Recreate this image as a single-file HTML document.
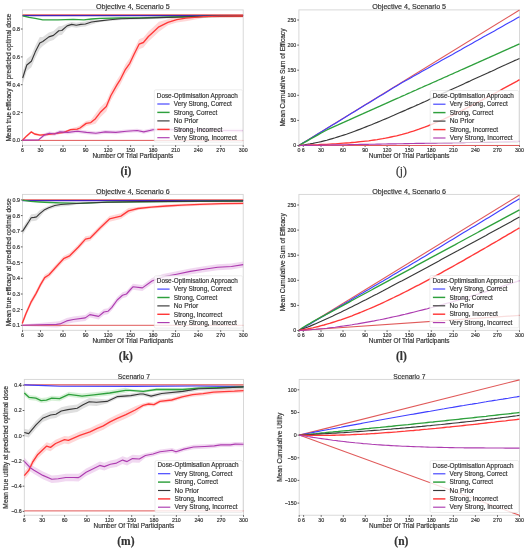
<!DOCTYPE html><html><head><meta charset="utf-8"><style>html,body{margin:0;padding:0;background:#fff;width:526px;height:550px;overflow:hidden}svg{display:block;will-change:transform}</style></head><body>
<svg width="526" height="550" viewBox="0 0 526 550">
<defs><filter id="soft" x="0" y="0" width="526" height="550" filterUnits="userSpaceOnUse"><feGaussianBlur stdDeviation="0.35"/></filter></defs>
<rect width="526" height="550" fill="#fff"/>
<g filter="url(#soft)">
<rect x="22.5" y="9.9" width="220.7" height="135.4" fill="none" stroke="#d4d4d4" stroke-width="0.9"/>
<line x1="20.9" y1="140.4" x2="22.5" y2="140.4" stroke="#333" stroke-width="0.8"/>
<text x="19.9" y="142.3" font-size="5.3" text-anchor="end" fill="#333333" stroke="#333333" stroke-width="0.18" font-family='"Liberation Sans", sans-serif' font-weight="normal">0.0</text>
<line x1="20.9" y1="112.6" x2="22.5" y2="112.6" stroke="#333" stroke-width="0.8"/>
<text x="19.9" y="114.5" font-size="5.3" text-anchor="end" fill="#333333" stroke="#333333" stroke-width="0.18" font-family='"Liberation Sans", sans-serif' font-weight="normal">0.2</text>
<line x1="20.9" y1="84.7" x2="22.5" y2="84.7" stroke="#333" stroke-width="0.8"/>
<text x="19.9" y="86.6" font-size="5.3" text-anchor="end" fill="#333333" stroke="#333333" stroke-width="0.18" font-family='"Liberation Sans", sans-serif' font-weight="normal">0.4</text>
<line x1="20.9" y1="56.9" x2="22.5" y2="56.9" stroke="#333" stroke-width="0.8"/>
<text x="19.9" y="58.8" font-size="5.3" text-anchor="end" fill="#333333" stroke="#333333" stroke-width="0.18" font-family='"Liberation Sans", sans-serif' font-weight="normal">0.6</text>
<line x1="20.9" y1="29.0" x2="22.5" y2="29.0" stroke="#333" stroke-width="0.8"/>
<text x="19.9" y="30.9" font-size="5.3" text-anchor="end" fill="#333333" stroke="#333333" stroke-width="0.18" font-family='"Liberation Sans", sans-serif' font-weight="normal">0.8</text>
<line x1="22.5" y1="145.3" x2="22.5" y2="146.9" stroke="#333" stroke-width="0.8"/>
<text x="22.5" y="151.8" font-size="5.3" text-anchor="middle" fill="#333333" stroke="#333333" stroke-width="0.18" font-family='"Liberation Sans", sans-serif' font-weight="normal">6</text>
<line x1="40.5" y1="145.3" x2="40.5" y2="146.9" stroke="#333" stroke-width="0.8"/>
<text x="40.5" y="151.8" font-size="5.3" text-anchor="middle" fill="#333333" stroke="#333333" stroke-width="0.18" font-family='"Liberation Sans", sans-serif' font-weight="normal">30</text>
<line x1="63.0" y1="145.3" x2="63.0" y2="146.9" stroke="#333" stroke-width="0.8"/>
<text x="63.0" y="151.8" font-size="5.3" text-anchor="middle" fill="#333333" stroke="#333333" stroke-width="0.18" font-family='"Liberation Sans", sans-serif' font-weight="normal">60</text>
<line x1="85.6" y1="145.3" x2="85.6" y2="146.9" stroke="#333" stroke-width="0.8"/>
<text x="85.6" y="151.8" font-size="5.3" text-anchor="middle" fill="#333333" stroke="#333333" stroke-width="0.18" font-family='"Liberation Sans", sans-serif' font-weight="normal">90</text>
<line x1="108.1" y1="145.3" x2="108.1" y2="146.9" stroke="#333" stroke-width="0.8"/>
<text x="108.1" y="151.8" font-size="5.3" text-anchor="middle" fill="#333333" stroke="#333333" stroke-width="0.18" font-family='"Liberation Sans", sans-serif' font-weight="normal">120</text>
<line x1="130.6" y1="145.3" x2="130.6" y2="146.9" stroke="#333" stroke-width="0.8"/>
<text x="130.6" y="151.8" font-size="5.3" text-anchor="middle" fill="#333333" stroke="#333333" stroke-width="0.18" font-family='"Liberation Sans", sans-serif' font-weight="normal">150</text>
<line x1="153.1" y1="145.3" x2="153.1" y2="146.9" stroke="#333" stroke-width="0.8"/>
<text x="153.1" y="151.8" font-size="5.3" text-anchor="middle" fill="#333333" stroke="#333333" stroke-width="0.18" font-family='"Liberation Sans", sans-serif' font-weight="normal">180</text>
<line x1="175.6" y1="145.3" x2="175.6" y2="146.9" stroke="#333" stroke-width="0.8"/>
<text x="175.6" y="151.8" font-size="5.3" text-anchor="middle" fill="#333333" stroke="#333333" stroke-width="0.18" font-family='"Liberation Sans", sans-serif' font-weight="normal">210</text>
<line x1="198.2" y1="145.3" x2="198.2" y2="146.9" stroke="#333" stroke-width="0.8"/>
<text x="198.2" y="151.8" font-size="5.3" text-anchor="middle" fill="#333333" stroke="#333333" stroke-width="0.18" font-family='"Liberation Sans", sans-serif' font-weight="normal">240</text>
<line x1="220.7" y1="145.3" x2="220.7" y2="146.9" stroke="#333" stroke-width="0.8"/>
<text x="220.7" y="151.8" font-size="5.3" text-anchor="middle" fill="#333333" stroke="#333333" stroke-width="0.18" font-family='"Liberation Sans", sans-serif' font-weight="normal">270</text>
<line x1="243.2" y1="145.3" x2="243.2" y2="146.9" stroke="#333" stroke-width="0.8"/>
<text x="243.2" y="151.8" font-size="5.3" text-anchor="middle" fill="#333333" stroke="#333333" stroke-width="0.18" font-family='"Liberation Sans", sans-serif' font-weight="normal">300</text>
<text x="132.8" y="8.8" font-size="7.1" text-anchor="middle" fill="#333333" stroke="#333333" stroke-width="0.18" font-family='"Liberation Sans", sans-serif' font-weight="normal" textLength="73.8" lengthAdjust="spacingAndGlyphs">Objective 4, Scenario 5</text>
<text x="132.8" y="157.6" font-size="6.3" text-anchor="middle" fill="#333333" stroke="#333333" stroke-width="0.18" font-family='"Liberation Sans", sans-serif' font-weight="normal" textLength="80.8" lengthAdjust="spacingAndGlyphs">Number Of Trial Participants</text>
<text x="0" y="0" font-size="6.3" text-anchor="middle" fill="#333333" stroke="#333333" stroke-width="0.18" font-family='"Liberation Sans", sans-serif' textLength="128" lengthAdjust="spacingAndGlyphs" transform="translate(10.6,77.60000000000001) rotate(-90)">Mean true efficacy at predicted optimal dose</text>
<text x="125.9" y="174.8" font-size="11.5" text-anchor="middle" fill="#333333" stroke="#333333" stroke-width="0.18" font-family='"Liberation Serif", serif' font-weight="bold">(i)</text>
<polygon points="22.7,72.0 26.8,59.0 31.4,55.2 35.2,46.1 39.8,37.0 42.8,37.0 48.9,32.4 53.5,30.9 58.8,26.3 61.8,26.0 67.1,23.4 71.7,21.9 76.3,22.7 80.8,21.9 85.4,21.5 91.5,19.5 100.0,19.7 110.0,18.6 121.0,17.6 140.0,17.1 160.0,16.4 180.0,15.8 210.0,15.2 243.0,14.9 243.0,17.3 210.0,17.6 180.0,18.2 160.0,18.8 140.0,19.5 121.0,20.0 110.0,21.0 100.0,22.1 91.5,24.5 85.4,26.5 80.8,26.9 76.3,27.7 71.7,26.9 67.1,28.4 61.8,35.0 58.8,35.3 53.5,39.9 48.9,41.4 42.8,46.0 39.8,49.0 35.2,58.1 31.4,67.2 26.8,71.0 22.7,84.0" fill="#b8b8b8" opacity="0.45" stroke="none"/>
<polygon points="22.5,139.0 26.7,134.7 31.2,130.7 34.6,132.8 40.0,133.9 46.6,133.3 54.6,132.5 63.9,131.2 70.6,128.5 77.2,126.7 80.0,125.5 86.2,120.9 90.8,120.1 95.5,113.7 100.1,107.6 106.3,101.4 110.9,90.5 117.1,79.7 120.0,75.2 125.5,64.3 129.8,58.3 134.2,49.0 139.1,39.2 143.4,37.5 148.4,31.5 152.0,28.2 158.9,21.8 167.9,19.3 176.8,16.6 185.7,15.2 203.6,15.1 220.0,14.7 243.0,14.5 243.0,17.5 220.0,17.7 203.6,18.1 185.7,21.2 176.8,22.6 167.9,25.3 158.9,31.8 152.0,38.2 148.4,41.5 143.4,47.5 139.1,49.2 134.2,59.0 129.8,68.3 125.5,74.3 120.0,85.2 117.1,89.7 110.9,100.5 106.3,111.4 100.1,117.6 95.5,123.7 90.8,125.1 86.2,125.9 80.0,130.5 77.2,131.7 70.6,130.9 63.9,133.6 54.6,134.9 46.6,135.7 40.0,136.3 34.6,135.2 31.2,133.1 26.7,137.1 22.5,141.4" fill="#ff9a9a" opacity="0.4" stroke="none"/>
<polygon points="22.5,139.3 38.6,139.1 44.0,133.5 49.3,131.4 54.6,132.2 59.9,130.1 67.9,130.6 77.2,129.5 86.5,130.6 95.9,131.4 105.2,130.1 115.8,130.6 126.5,129.5 137.1,128.7 143.8,130.1 153.1,127.9 165.0,127.7 180.0,128.2 200.0,127.7 220.0,128.7 243.0,128.8 243.0,132.4 220.0,132.3 200.0,131.3 180.0,131.8 165.0,131.3 153.1,131.5 143.8,133.7 137.1,132.3 126.5,133.1 115.8,134.2 105.2,133.7 95.9,135.0 86.5,134.2 77.2,133.1 67.9,134.2 59.9,133.7 54.6,135.8 49.3,135.0 44.0,137.1 38.6,140.7 22.5,140.9" fill="#d890d8" opacity="0.35" stroke="none"/>
<polyline points="22.5,140.4 243.2,140.4" fill="none" stroke="#e05a5a" stroke-width="1.0" stroke-linejoin="round" stroke-linecap="butt" opacity="1.0"/>
<polyline points="22.5,14.9 243.2,14.9" fill="none" stroke="#e05a5a" stroke-width="1.2" stroke-linejoin="round" stroke-linecap="butt" opacity="1.0"/>
<polyline points="22.5,15.7 243.2,15.7" fill="none" stroke="#4422b8" stroke-width="1.2" stroke-linejoin="round" stroke-linecap="butt" opacity="1.0"/>
<polyline points="22.7,15.9 29.1,17.4 35.2,18.3 42.8,19.9 58.0,19.9 73.2,19.4 83.9,19.9 91.5,19.0 100.0,18.3 120.0,18.0 140.0,17.8 170.0,17.0 200.0,16.5 243.0,16.1" fill="none" stroke="#2ea03c" stroke-width="1.35" stroke-linejoin="round" stroke-linecap="butt" opacity="1.0"/>
<polyline points="22.7,78.0 26.8,65.0 31.4,61.2 35.2,52.1 39.8,43.0 42.8,41.5 48.9,36.9 53.5,35.4 58.8,30.8 61.8,30.5 67.1,25.9 71.7,24.4 76.3,25.2 80.8,24.4 85.4,24.0 91.5,22.0 100.0,20.9 110.0,19.8 121.0,18.8 140.0,18.3 160.0,17.6 180.0,17.0 210.0,16.4 243.0,16.1" fill="none" stroke="#383838" stroke-width="1.15" stroke-linejoin="round" stroke-linecap="butt" opacity="1.0"/>
<polyline points="22.5,140.2 26.7,135.9 31.2,131.9 34.6,134.0 40.0,135.1 46.6,134.5 54.6,133.7 63.9,132.4 70.6,129.7 77.2,129.2 80.0,128.0 86.2,123.4 90.8,122.6 95.5,118.7 100.1,112.6 106.3,106.4 110.9,95.5 117.1,84.7 120.0,80.2 125.5,69.3 129.8,63.3 134.2,54.0 139.1,44.2 143.4,42.5 148.4,36.5 152.0,33.2 158.9,26.8 167.9,22.3 176.8,19.6 185.7,18.2 203.6,16.6 220.0,16.2 243.0,16.0" fill="none" stroke="#ff3838" stroke-width="1.35" stroke-linejoin="round" stroke-linecap="butt" opacity="1.0"/>
<polyline points="22.5,140.1 38.6,139.9 44.0,135.3 49.3,133.2 54.6,134.0 59.9,131.9 67.9,132.4 77.2,131.3 86.5,132.4 95.9,133.2 105.2,131.9 115.8,132.4 126.5,131.3 137.1,130.5 143.8,131.9 153.1,129.7 165.0,129.5 180.0,130.0 200.0,129.5 220.0,130.5 243.0,130.6" fill="none" stroke="#ad3cb0" stroke-width="1.15" stroke-linejoin="round" stroke-linecap="butt" opacity="1.0"/>
<rect x="154.3" y="89.8" width="88.3" height="52.3" rx="1.5" fill="#ffffff" fill-opacity="0.8" stroke="#e0e0e0" stroke-width="0.6"/>
<text x="156.8" y="97.6" font-size="6.7" text-anchor="start" fill="#333333" stroke="#333333" stroke-width="0.18" font-family='"Liberation Sans", sans-serif' font-weight="normal" textLength="81" lengthAdjust="spacingAndGlyphs">Dose-Optimisation Approach</text>
<line x1="157.3" y1="104.0" x2="169.60000000000002" y2="104.0" stroke="#4040ff" stroke-width="1.15"/>
<text x="173.8" y="106.2" font-size="6.7" text-anchor="start" fill="#333333" stroke="#333333" stroke-width="0.18" font-family='"Liberation Sans", sans-serif' font-weight="normal" textLength="58" lengthAdjust="spacingAndGlyphs">Very Strong, Correct</text>
<line x1="157.3" y1="112.4" x2="169.60000000000002" y2="112.4" stroke="#2ea03c" stroke-width="1.45"/>
<text x="173.8" y="114.6" font-size="6.7" text-anchor="start" fill="#333333" stroke="#333333" stroke-width="0.18" font-family='"Liberation Sans", sans-serif' font-weight="normal" textLength="43.5" lengthAdjust="spacingAndGlyphs">Strong, Correct</text>
<line x1="157.3" y1="120.9" x2="169.60000000000002" y2="120.9" stroke="#383838" stroke-width="1.15"/>
<text x="173.8" y="123.1" font-size="6.7" text-anchor="start" fill="#333333" stroke="#333333" stroke-width="0.18" font-family='"Liberation Sans", sans-serif' font-weight="normal" textLength="24.5" lengthAdjust="spacingAndGlyphs">No Prior</text>
<line x1="157.3" y1="129.4" x2="169.60000000000002" y2="129.4" stroke="#ff3838" stroke-width="1.45"/>
<text x="173.8" y="131.6" font-size="6.7" text-anchor="start" fill="#333333" stroke="#333333" stroke-width="0.18" font-family='"Liberation Sans", sans-serif' font-weight="normal" textLength="48.5" lengthAdjust="spacingAndGlyphs">Strong, Incorrect</text>
<line x1="157.3" y1="137.7" x2="169.60000000000002" y2="137.7" stroke="#ad3cb0" stroke-width="1.15"/>
<text x="173.8" y="139.9" font-size="6.7" text-anchor="start" fill="#333333" stroke="#333333" stroke-width="0.18" font-family='"Liberation Sans", sans-serif' font-weight="normal" textLength="63" lengthAdjust="spacingAndGlyphs">Very Strong, Incorrect</text>
<rect x="298.9" y="9.9" width="220.6" height="135.4" fill="none" stroke="#d4d4d4" stroke-width="0.9"/>
<line x1="297.29999999999995" y1="145.5" x2="298.9" y2="145.5" stroke="#333" stroke-width="0.8"/>
<text x="296.3" y="147.4" font-size="5.3" text-anchor="end" fill="#333333" stroke="#333333" stroke-width="0.18" font-family='"Liberation Sans", sans-serif' font-weight="normal">0</text>
<line x1="297.29999999999995" y1="120.4" x2="298.9" y2="120.4" stroke="#333" stroke-width="0.8"/>
<text x="296.3" y="122.3" font-size="5.3" text-anchor="end" fill="#333333" stroke="#333333" stroke-width="0.18" font-family='"Liberation Sans", sans-serif' font-weight="normal">50</text>
<line x1="297.29999999999995" y1="95.3" x2="298.9" y2="95.3" stroke="#333" stroke-width="0.8"/>
<text x="296.3" y="97.2" font-size="5.3" text-anchor="end" fill="#333333" stroke="#333333" stroke-width="0.18" font-family='"Liberation Sans", sans-serif' font-weight="normal">100</text>
<line x1="297.29999999999995" y1="70.2" x2="298.9" y2="70.2" stroke="#333" stroke-width="0.8"/>
<text x="296.3" y="72.1" font-size="5.3" text-anchor="end" fill="#333333" stroke="#333333" stroke-width="0.18" font-family='"Liberation Sans", sans-serif' font-weight="normal">150</text>
<line x1="297.29999999999995" y1="45.1" x2="298.9" y2="45.1" stroke="#333" stroke-width="0.8"/>
<text x="296.3" y="47.0" font-size="5.3" text-anchor="end" fill="#333333" stroke="#333333" stroke-width="0.18" font-family='"Liberation Sans", sans-serif' font-weight="normal">200</text>
<line x1="297.29999999999995" y1="20.0" x2="298.9" y2="20.0" stroke="#333" stroke-width="0.8"/>
<text x="296.3" y="21.9" font-size="5.3" text-anchor="end" fill="#333333" stroke="#333333" stroke-width="0.18" font-family='"Liberation Sans", sans-serif' font-weight="normal">250</text>
<line x1="298.9" y1="145.3" x2="298.9" y2="146.9" stroke="#333" stroke-width="0.8"/>
<text x="298.9" y="151.8" font-size="5.3" text-anchor="middle" fill="#333333" stroke="#333333" stroke-width="0.18" font-family='"Liberation Sans", sans-serif' font-weight="normal">0</text>
<line x1="303.3" y1="145.3" x2="303.3" y2="146.9" stroke="#333" stroke-width="0.8"/>
<text x="303.3" y="151.8" font-size="5.3" text-anchor="middle" fill="#333333" stroke="#333333" stroke-width="0.18" font-family='"Liberation Sans", sans-serif' font-weight="normal">6</text>
<line x1="321.0" y1="145.3" x2="321.0" y2="146.9" stroke="#333" stroke-width="0.8"/>
<text x="321.0" y="151.8" font-size="5.3" text-anchor="middle" fill="#333333" stroke="#333333" stroke-width="0.18" font-family='"Liberation Sans", sans-serif' font-weight="normal">30</text>
<line x1="343.0" y1="145.3" x2="343.0" y2="146.9" stroke="#333" stroke-width="0.8"/>
<text x="343.0" y="151.8" font-size="5.3" text-anchor="middle" fill="#333333" stroke="#333333" stroke-width="0.18" font-family='"Liberation Sans", sans-serif' font-weight="normal">60</text>
<line x1="365.1" y1="145.3" x2="365.1" y2="146.9" stroke="#333" stroke-width="0.8"/>
<text x="365.1" y="151.8" font-size="5.3" text-anchor="middle" fill="#333333" stroke="#333333" stroke-width="0.18" font-family='"Liberation Sans", sans-serif' font-weight="normal">90</text>
<line x1="387.1" y1="145.3" x2="387.1" y2="146.9" stroke="#333" stroke-width="0.8"/>
<text x="387.1" y="151.8" font-size="5.3" text-anchor="middle" fill="#333333" stroke="#333333" stroke-width="0.18" font-family='"Liberation Sans", sans-serif' font-weight="normal">120</text>
<line x1="409.2" y1="145.3" x2="409.2" y2="146.9" stroke="#333" stroke-width="0.8"/>
<text x="409.2" y="151.8" font-size="5.3" text-anchor="middle" fill="#333333" stroke="#333333" stroke-width="0.18" font-family='"Liberation Sans", sans-serif' font-weight="normal">150</text>
<line x1="431.3" y1="145.3" x2="431.3" y2="146.9" stroke="#333" stroke-width="0.8"/>
<text x="431.3" y="151.8" font-size="5.3" text-anchor="middle" fill="#333333" stroke="#333333" stroke-width="0.18" font-family='"Liberation Sans", sans-serif' font-weight="normal">180</text>
<line x1="453.3" y1="145.3" x2="453.3" y2="146.9" stroke="#333" stroke-width="0.8"/>
<text x="453.3" y="151.8" font-size="5.3" text-anchor="middle" fill="#333333" stroke="#333333" stroke-width="0.18" font-family='"Liberation Sans", sans-serif' font-weight="normal">210</text>
<line x1="475.4" y1="145.3" x2="475.4" y2="146.9" stroke="#333" stroke-width="0.8"/>
<text x="475.4" y="151.8" font-size="5.3" text-anchor="middle" fill="#333333" stroke="#333333" stroke-width="0.18" font-family='"Liberation Sans", sans-serif' font-weight="normal">240</text>
<line x1="497.4" y1="145.3" x2="497.4" y2="146.9" stroke="#333" stroke-width="0.8"/>
<text x="497.4" y="151.8" font-size="5.3" text-anchor="middle" fill="#333333" stroke="#333333" stroke-width="0.18" font-family='"Liberation Sans", sans-serif' font-weight="normal">270</text>
<line x1="519.5" y1="145.3" x2="519.5" y2="146.9" stroke="#333" stroke-width="0.8"/>
<text x="519.5" y="151.8" font-size="5.3" text-anchor="middle" fill="#333333" stroke="#333333" stroke-width="0.18" font-family='"Liberation Sans", sans-serif' font-weight="normal">300</text>
<text x="409.2" y="8.8" font-size="7.1" text-anchor="middle" fill="#333333" stroke="#333333" stroke-width="0.18" font-family='"Liberation Sans", sans-serif' font-weight="normal" textLength="73.8" lengthAdjust="spacingAndGlyphs">Objective 4, Scenario 5</text>
<text x="409.2" y="157.6" font-size="6.3" text-anchor="middle" fill="#333333" stroke="#333333" stroke-width="0.18" font-family='"Liberation Sans", sans-serif' font-weight="normal" textLength="80.8" lengthAdjust="spacingAndGlyphs">Number Of Trial Participants</text>
<text x="0" y="0" font-size="6.3" text-anchor="middle" fill="#333333" stroke="#333333" stroke-width="0.18" font-family='"Liberation Sans", sans-serif' textLength="98" lengthAdjust="spacingAndGlyphs" transform="translate(285.3,77.60000000000001) rotate(-90)">Mean Cumulative Sum of Efficacy</text>
<text x="401.4" y="174.8" font-size="11.5" text-anchor="middle" fill="#333333" stroke="#333333" stroke-width="0.18" font-family='"Liberation Serif", serif' font-weight="normal">(j)</text>
<polyline points="298.9,145.5 519.5,10.0" fill="none" stroke="#e05a5a" stroke-width="1.1" stroke-linejoin="round" stroke-linecap="butt" opacity="1.0"/>
<polyline points="298.9,145.5 519.5,145.5" fill="none" stroke="#e05a5a" stroke-width="1.1" stroke-linejoin="round" stroke-linecap="butt" opacity="1.0"/>
<polyline points="298.9,145.5 301.7,143.8 304.5,142.1 307.3,140.4 310.1,138.7 312.9,137.0 315.7,135.3 318.4,133.6 321.2,131.9 324.0,130.2 326.8,128.5 329.6,126.8 332.4,125.1 335.2,123.4 338.0,121.7 340.8,120.0 343.6,118.3 346.4,116.5 349.2,114.8 352.0,113.1 354.7,111.4 357.5,109.7 360.3,108.0 363.1,106.3 365.9,104.6 368.7,102.9 371.5,101.2 374.3,99.5 377.1,97.8 379.9,96.1 382.7,94.4 385.5,92.7 388.3,91.0 391.0,89.3 393.8,87.6 396.6,85.9 399.4,84.3 402.2,82.6 405.0,81.0 407.8,79.5 410.6,77.9 413.4,76.3 416.2,74.7 419.0,73.2 421.8,71.6 424.6,70.0 427.4,68.5 430.1,66.9 432.9,65.3 435.7,63.8 438.5,62.2 441.3,60.6 444.1,59.1 446.9,57.5 449.7,55.9 452.5,54.4 455.3,52.8 458.1,51.2 460.9,49.7 463.7,48.1 466.4,46.5 469.2,45.0 472.0,43.4 474.8,41.8 477.6,40.3 480.4,38.7 483.2,37.1 486.0,35.6 488.8,34.0 491.6,32.4 494.4,30.9 497.2,29.3 500.0,27.7 502.7,26.2 505.5,24.6 508.3,23.0 511.1,21.5 513.9,19.9 516.7,18.3 519.5,16.8" fill="none" stroke="#4040ff" stroke-width="1.15" stroke-linejoin="round" stroke-linecap="butt" opacity="1.0"/>
<polyline points="298.9,145.5 301.7,143.9 304.5,142.4 307.3,140.8 310.1,139.2 312.9,137.7 315.7,136.1 318.4,134.6 321.2,133.0 324.0,131.5 326.8,130.0 329.6,128.7 332.4,127.4 335.2,126.1 338.0,124.9 340.8,123.6 343.6,122.4 346.4,121.1 349.2,119.9 352.0,118.6 354.7,117.4 357.5,116.1 360.3,114.9 363.1,113.7 365.9,112.4 368.7,111.2 371.5,109.9 374.3,108.7 377.1,107.4 379.9,106.2 382.7,104.9 385.5,103.7 388.3,102.4 391.0,101.2 393.8,99.9 396.6,98.7 399.4,97.5 402.2,96.2 405.0,95.0 407.8,93.7 410.6,92.5 413.4,91.2 416.2,90.0 419.0,88.7 421.8,87.5 424.6,86.2 427.4,85.0 430.1,83.8 432.9,82.5 435.7,81.3 438.5,80.0 441.3,78.8 444.1,77.5 446.9,76.3 449.7,75.0 452.5,73.8 455.3,72.5 458.1,71.3 460.9,70.0 463.7,68.8 466.4,67.6 469.2,66.3 472.0,65.1 474.8,63.8 477.6,62.6 480.4,61.3 483.2,60.1 486.0,58.8 488.8,57.6 491.6,56.3 494.4,55.1 497.2,53.8 500.0,52.6 502.7,51.4 505.5,50.1 508.3,48.9 511.1,47.6 513.9,46.4 516.7,45.1 519.5,43.9" fill="none" stroke="#2ea03c" stroke-width="1.35" stroke-linejoin="round" stroke-linecap="butt" opacity="1.0"/>
<polyline points="298.9,145.5 301.7,145.2 304.5,144.8 307.3,144.3 310.1,143.9 312.9,143.4 315.7,142.8 318.4,142.2 321.2,141.6 324.0,140.9 326.8,140.2 329.6,139.4 332.4,138.6 335.2,137.8 338.0,136.9 340.8,136.0 343.6,135.1 346.4,134.2 349.2,133.2 352.0,132.2 354.7,131.2 357.5,130.1 360.3,129.1 363.1,128.0 365.9,126.9 368.7,125.8 371.5,124.7 374.3,123.5 377.1,122.4 379.9,121.2 382.7,120.0 385.5,118.9 388.3,117.7 391.0,116.5 393.8,115.3 396.6,114.0 399.4,112.8 402.2,111.6 405.0,110.4 407.8,109.1 410.6,107.9 413.4,106.7 416.2,105.4 419.0,104.2 421.8,102.9 424.6,101.7 427.4,100.4 430.1,99.1 432.9,97.9 435.7,96.6 438.5,95.4 441.3,94.1 444.1,92.8 446.9,91.6 449.7,90.3 452.5,89.0 455.3,87.7 458.1,86.5 460.9,85.2 463.7,83.9 466.4,82.6 469.2,81.4 472.0,80.1 474.8,78.8 477.6,77.5 480.4,76.3 483.2,75.0 486.0,73.7 488.8,72.4 491.6,71.2 494.4,69.9 497.2,68.6 500.0,67.3 502.7,66.0 505.5,64.8 508.3,63.5 511.1,62.2 513.9,60.9 516.7,59.7 519.5,58.4" fill="none" stroke="#383838" stroke-width="1.15" stroke-linejoin="round" stroke-linecap="butt" opacity="1.0"/>
<polyline points="298.9,145.5 301.7,145.4 304.5,145.3 307.3,145.2 310.1,145.0 312.9,144.9 315.7,144.8 318.4,144.7 321.2,144.5 324.0,144.4 326.8,144.3 329.6,144.1 332.4,143.9 335.2,143.8 338.0,143.6 340.8,143.4 343.6,143.2 346.4,143.0 349.2,142.8 352.0,142.5 354.7,142.3 357.5,142.0 360.3,141.7 363.1,141.4 365.9,141.1 368.7,140.8 371.5,140.4 374.3,140.0 377.1,139.6 379.9,139.1 382.7,138.7 385.5,138.2 388.3,137.6 391.0,137.0 393.8,136.4 396.6,135.8 399.4,135.1 402.2,134.4 405.0,133.6 407.8,132.8 410.6,131.9 413.4,131.1 416.2,130.1 419.0,129.2 421.8,128.2 424.6,127.2 427.4,126.1 430.1,125.0 432.9,123.9 435.7,122.7 438.5,121.5 441.3,120.3 444.1,119.0 446.9,117.7 449.7,116.4 452.5,115.1 455.3,113.8 458.1,112.4 460.9,111.0 463.7,109.6 466.4,108.2 469.2,106.8 472.0,105.3 474.8,103.9 477.6,102.4 480.4,101.0 483.2,99.5 486.0,98.0 488.8,96.5 491.6,95.0 494.4,93.5 497.2,92.0 500.0,90.5 502.7,88.9 505.5,87.4 508.3,85.9 511.1,84.4 513.9,82.8 516.7,81.3 519.5,79.7" fill="none" stroke="#ff3838" stroke-width="1.35" stroke-linejoin="round" stroke-linecap="butt" opacity="1.0"/>
<polyline points="298.9,145.5 301.7,145.5 304.5,145.4 307.3,145.4 310.1,145.3 312.9,145.3 315.7,145.2 318.4,145.2 321.2,145.1 324.0,145.1 326.8,145.0 329.6,145.0 332.4,144.9 335.2,144.9 338.0,144.8 340.8,144.8 343.6,144.7 346.4,144.7 349.2,144.6 352.0,144.6 354.7,144.5 357.5,144.5 360.3,144.4 363.1,144.4 365.9,144.3 368.7,144.3 371.5,144.2 374.3,144.2 377.1,144.1 379.9,144.1 382.7,144.0 385.5,144.0 388.3,143.9 391.0,143.9 393.8,143.8 396.6,143.8 399.4,143.7 402.2,143.7 405.0,143.6 407.8,143.6 410.6,143.5 413.4,143.5 416.2,143.4 419.0,143.4 421.8,143.3 424.6,143.3 427.4,143.2 430.1,143.2 432.9,143.1 435.7,143.1 438.5,143.0 441.3,143.0 444.1,142.9 446.9,142.9 449.7,142.8 452.5,142.8 455.3,142.7 458.1,142.7 460.9,142.6 463.7,142.6 466.4,142.5 469.2,142.5 472.0,142.4 474.8,142.4 477.6,142.3 480.4,142.3 483.2,142.2 486.0,142.2 488.8,142.1 491.6,142.1 494.4,142.0 497.2,141.9 500.0,141.8 502.7,141.7 505.5,141.6 508.3,141.6 511.1,141.5 513.9,141.4 516.7,141.3 519.5,141.2" fill="none" stroke="#ad3cb0" stroke-width="1.15" stroke-linejoin="round" stroke-linecap="butt" opacity="1.0"/>
<rect x="430.2" y="90.5" width="88.6" height="52.0" rx="1.5" fill="#ffffff" fill-opacity="0.8" stroke="#e0e0e0" stroke-width="0.6"/>
<text x="432.7" y="97.8" font-size="6.7" text-anchor="start" fill="#333333" stroke="#333333" stroke-width="0.18" font-family='"Liberation Sans", sans-serif' font-weight="normal" textLength="81" lengthAdjust="spacingAndGlyphs">Dose-Optimisation Approach</text>
<line x1="433.2" y1="104.2" x2="445.5" y2="104.2" stroke="#4040ff" stroke-width="1.15"/>
<text x="449.7" y="106.4" font-size="6.7" text-anchor="start" fill="#333333" stroke="#333333" stroke-width="0.18" font-family='"Liberation Sans", sans-serif' font-weight="normal" textLength="58" lengthAdjust="spacingAndGlyphs">Very Strong, Correct</text>
<line x1="433.2" y1="112.6" x2="445.5" y2="112.6" stroke="#2ea03c" stroke-width="1.45"/>
<text x="449.7" y="114.8" font-size="6.7" text-anchor="start" fill="#333333" stroke="#333333" stroke-width="0.18" font-family='"Liberation Sans", sans-serif' font-weight="normal" textLength="43.5" lengthAdjust="spacingAndGlyphs">Strong, Correct</text>
<line x1="433.2" y1="121.1" x2="445.5" y2="121.1" stroke="#383838" stroke-width="1.15"/>
<text x="449.7" y="123.3" font-size="6.7" text-anchor="start" fill="#333333" stroke="#333333" stroke-width="0.18" font-family='"Liberation Sans", sans-serif' font-weight="normal" textLength="24.5" lengthAdjust="spacingAndGlyphs">No Prior</text>
<line x1="433.2" y1="129.6" x2="445.5" y2="129.6" stroke="#ff3838" stroke-width="1.45"/>
<text x="449.7" y="131.8" font-size="6.7" text-anchor="start" fill="#333333" stroke="#333333" stroke-width="0.18" font-family='"Liberation Sans", sans-serif' font-weight="normal" textLength="48.5" lengthAdjust="spacingAndGlyphs">Strong, Incorrect</text>
<line x1="433.2" y1="138.0" x2="445.5" y2="138.0" stroke="#ad3cb0" stroke-width="1.15"/>
<text x="449.7" y="140.2" font-size="6.7" text-anchor="start" fill="#333333" stroke="#333333" stroke-width="0.18" font-family='"Liberation Sans", sans-serif' font-weight="normal" textLength="63" lengthAdjust="spacingAndGlyphs">Very Strong, Incorrect</text>
<rect x="22.5" y="194.4" width="220.7" height="135.9" fill="none" stroke="#d4d4d4" stroke-width="0.9"/>
<line x1="20.9" y1="325.3" x2="22.5" y2="325.3" stroke="#333" stroke-width="0.8"/>
<text x="19.9" y="327.2" font-size="5.3" text-anchor="end" fill="#333333" stroke="#333333" stroke-width="0.18" font-family='"Liberation Sans", sans-serif' font-weight="normal">0.1</text>
<line x1="20.9" y1="309.6" x2="22.5" y2="309.6" stroke="#333" stroke-width="0.8"/>
<text x="19.9" y="311.5" font-size="5.3" text-anchor="end" fill="#333333" stroke="#333333" stroke-width="0.18" font-family='"Liberation Sans", sans-serif' font-weight="normal">0.2</text>
<line x1="20.9" y1="294.0" x2="22.5" y2="294.0" stroke="#333" stroke-width="0.8"/>
<text x="19.9" y="295.9" font-size="5.3" text-anchor="end" fill="#333333" stroke="#333333" stroke-width="0.18" font-family='"Liberation Sans", sans-serif' font-weight="normal">0.3</text>
<line x1="20.9" y1="278.3" x2="22.5" y2="278.3" stroke="#333" stroke-width="0.8"/>
<text x="19.9" y="280.2" font-size="5.3" text-anchor="end" fill="#333333" stroke="#333333" stroke-width="0.18" font-family='"Liberation Sans", sans-serif' font-weight="normal">0.4</text>
<line x1="20.9" y1="262.6" x2="22.5" y2="262.6" stroke="#333" stroke-width="0.8"/>
<text x="19.9" y="264.5" font-size="5.3" text-anchor="end" fill="#333333" stroke="#333333" stroke-width="0.18" font-family='"Liberation Sans", sans-serif' font-weight="normal">0.5</text>
<line x1="20.9" y1="246.9" x2="22.5" y2="246.9" stroke="#333" stroke-width="0.8"/>
<text x="19.9" y="248.8" font-size="5.3" text-anchor="end" fill="#333333" stroke="#333333" stroke-width="0.18" font-family='"Liberation Sans", sans-serif' font-weight="normal">0.6</text>
<line x1="20.9" y1="231.2" x2="22.5" y2="231.2" stroke="#333" stroke-width="0.8"/>
<text x="19.9" y="233.2" font-size="5.3" text-anchor="end" fill="#333333" stroke="#333333" stroke-width="0.18" font-family='"Liberation Sans", sans-serif' font-weight="normal">0.7</text>
<line x1="20.9" y1="215.6" x2="22.5" y2="215.6" stroke="#333" stroke-width="0.8"/>
<text x="19.9" y="217.5" font-size="5.3" text-anchor="end" fill="#333333" stroke="#333333" stroke-width="0.18" font-family='"Liberation Sans", sans-serif' font-weight="normal">0.8</text>
<line x1="20.9" y1="199.9" x2="22.5" y2="199.9" stroke="#333" stroke-width="0.8"/>
<text x="19.9" y="201.8" font-size="5.3" text-anchor="end" fill="#333333" stroke="#333333" stroke-width="0.18" font-family='"Liberation Sans", sans-serif' font-weight="normal">0.9</text>
<line x1="22.5" y1="330.3" x2="22.5" y2="331.90000000000003" stroke="#333" stroke-width="0.8"/>
<text x="22.5" y="336.8" font-size="5.3" text-anchor="middle" fill="#333333" stroke="#333333" stroke-width="0.18" font-family='"Liberation Sans", sans-serif' font-weight="normal">6</text>
<line x1="40.5" y1="330.3" x2="40.5" y2="331.90000000000003" stroke="#333" stroke-width="0.8"/>
<text x="40.5" y="336.8" font-size="5.3" text-anchor="middle" fill="#333333" stroke="#333333" stroke-width="0.18" font-family='"Liberation Sans", sans-serif' font-weight="normal">30</text>
<line x1="63.0" y1="330.3" x2="63.0" y2="331.90000000000003" stroke="#333" stroke-width="0.8"/>
<text x="63.0" y="336.8" font-size="5.3" text-anchor="middle" fill="#333333" stroke="#333333" stroke-width="0.18" font-family='"Liberation Sans", sans-serif' font-weight="normal">60</text>
<line x1="85.6" y1="330.3" x2="85.6" y2="331.90000000000003" stroke="#333" stroke-width="0.8"/>
<text x="85.6" y="336.8" font-size="5.3" text-anchor="middle" fill="#333333" stroke="#333333" stroke-width="0.18" font-family='"Liberation Sans", sans-serif' font-weight="normal">90</text>
<line x1="108.1" y1="330.3" x2="108.1" y2="331.90000000000003" stroke="#333" stroke-width="0.8"/>
<text x="108.1" y="336.8" font-size="5.3" text-anchor="middle" fill="#333333" stroke="#333333" stroke-width="0.18" font-family='"Liberation Sans", sans-serif' font-weight="normal">120</text>
<line x1="130.6" y1="330.3" x2="130.6" y2="331.90000000000003" stroke="#333" stroke-width="0.8"/>
<text x="130.6" y="336.8" font-size="5.3" text-anchor="middle" fill="#333333" stroke="#333333" stroke-width="0.18" font-family='"Liberation Sans", sans-serif' font-weight="normal">150</text>
<line x1="153.1" y1="330.3" x2="153.1" y2="331.90000000000003" stroke="#333" stroke-width="0.8"/>
<text x="153.1" y="336.8" font-size="5.3" text-anchor="middle" fill="#333333" stroke="#333333" stroke-width="0.18" font-family='"Liberation Sans", sans-serif' font-weight="normal">180</text>
<line x1="175.6" y1="330.3" x2="175.6" y2="331.90000000000003" stroke="#333" stroke-width="0.8"/>
<text x="175.6" y="336.8" font-size="5.3" text-anchor="middle" fill="#333333" stroke="#333333" stroke-width="0.18" font-family='"Liberation Sans", sans-serif' font-weight="normal">210</text>
<line x1="198.2" y1="330.3" x2="198.2" y2="331.90000000000003" stroke="#333" stroke-width="0.8"/>
<text x="198.2" y="336.8" font-size="5.3" text-anchor="middle" fill="#333333" stroke="#333333" stroke-width="0.18" font-family='"Liberation Sans", sans-serif' font-weight="normal">240</text>
<line x1="220.7" y1="330.3" x2="220.7" y2="331.90000000000003" stroke="#333" stroke-width="0.8"/>
<text x="220.7" y="336.8" font-size="5.3" text-anchor="middle" fill="#333333" stroke="#333333" stroke-width="0.18" font-family='"Liberation Sans", sans-serif' font-weight="normal">270</text>
<line x1="243.2" y1="330.3" x2="243.2" y2="331.90000000000003" stroke="#333" stroke-width="0.8"/>
<text x="243.2" y="336.8" font-size="5.3" text-anchor="middle" fill="#333333" stroke="#333333" stroke-width="0.18" font-family='"Liberation Sans", sans-serif' font-weight="normal">300</text>
<text x="132.8" y="193.8" font-size="7.1" text-anchor="middle" fill="#333333" stroke="#333333" stroke-width="0.18" font-family='"Liberation Sans", sans-serif' font-weight="normal" textLength="73.8" lengthAdjust="spacingAndGlyphs">Objective 4, Scenario 6</text>
<text x="132.8" y="342.6" font-size="6.3" text-anchor="middle" fill="#333333" stroke="#333333" stroke-width="0.18" font-family='"Liberation Sans", sans-serif' font-weight="normal" textLength="80.8" lengthAdjust="spacingAndGlyphs">Number Of Trial Participants</text>
<text x="0" y="0" font-size="6.3" text-anchor="middle" fill="#333333" stroke="#333333" stroke-width="0.18" font-family='"Liberation Sans", sans-serif' textLength="128" lengthAdjust="spacingAndGlyphs" transform="translate(10.6,262.35) rotate(-90)">Mean true efficacy at predicted optimal dose</text>
<text x="125.9" y="359.8" font-size="11.5" text-anchor="middle" fill="#333333" stroke="#333333" stroke-width="0.18" font-family='"Liberation Serif", serif' font-weight="bold">(k)</text>
<polygon points="22.5,227.9 25.9,222.6 28.9,218.0 31.2,214.2 34.2,213.9 36.5,213.4 39.5,210.4 44.1,208.1 48.7,205.8 54.8,203.5 60.8,202.5 68.4,202.0 80.0,202.5 107.0,201.4 140.0,200.8 200.0,200.4 243.0,200.2 243.0,201.8 200.0,202.0 140.0,202.4 107.0,203.0 80.0,204.1 68.4,206.0 60.8,206.5 54.8,207.5 48.7,209.8 44.1,212.1 39.5,217.4 36.5,220.4 34.2,220.9 31.2,221.2 28.9,225.0 25.9,229.6 22.5,234.9" fill="#b8b8b8" opacity="0.45" stroke="none"/>
<polygon points="22.2,320.7 25.8,311.2 30.9,299.6 36.0,290.8 40.4,282.1 44.7,274.8 49.1,271.9 54.9,265.4 63.6,255.9 69.7,253.0 78.2,244.5 85.5,236.3 90.0,235.4 96.4,229.0 100.0,225.2 109.5,216.1 120.9,213.3 128.5,208.1 138.0,207.1 151.3,205.7 166.5,204.6 181.7,203.8 200.0,202.9 222.0,202.3 243.2,202.0 243.2,204.8 222.0,205.1 200.0,205.7 181.7,206.6 166.5,207.4 151.3,208.5 138.0,209.9 128.5,213.7 120.9,218.9 109.5,221.7 100.0,230.8 96.4,234.6 90.0,241.0 85.5,241.9 78.2,250.1 69.7,258.6 63.6,261.5 54.9,271.0 49.1,277.5 44.7,280.4 40.4,287.7 36.0,296.4 30.9,305.2 25.8,316.8 22.2,326.3" fill="#ff9a9a" opacity="0.4" stroke="none"/>
<polygon points="22.2,324.4 56.4,321.4 60.0,320.9 66.7,317.9 73.3,316.5 85.3,314.9 89.9,311.6 98.6,313.4 103.9,309.0 107.9,308.3 111.9,304.3 117.2,297.0 122.5,292.3 126.5,291.0 130.0,287.0 132.9,283.8 142.4,284.9 152.0,278.0 163.0,273.9 176.6,271.2 190.3,268.4 204.0,266.2 217.7,264.3 231.4,263.5 243.2,261.6 243.2,267.6 231.4,269.5 217.7,270.3 204.0,272.2 190.3,274.4 176.6,277.2 163.0,279.9 152.0,284.0 142.4,290.9 132.9,289.8 130.0,293.0 126.5,297.0 122.5,298.3 117.2,303.0 111.9,310.3 107.9,314.3 103.9,315.0 98.6,319.4 89.9,317.6 85.3,320.9 73.3,322.5 66.7,323.9 60.0,326.9 56.4,327.4 22.2,326.0" fill="#d890d8" opacity="0.35" stroke="none"/>
<polyline points="22.5,325.3 243.2,325.3" fill="none" stroke="#e05a5a" stroke-width="1.0" stroke-linejoin="round" stroke-linecap="butt" opacity="1.0"/>
<polyline points="22.5,199.9 243.2,199.9" fill="none" stroke="#e05a5a" stroke-width="1.2" stroke-linejoin="round" stroke-linecap="butt" opacity="1.0"/>
<polyline points="22.5,200.7 243.2,200.7" fill="none" stroke="#4422b8" stroke-width="1.2" stroke-linejoin="round" stroke-linecap="butt" opacity="1.0"/>
<polyline points="22.5,200.2 30.4,201.4 39.5,202.0 50.2,202.5 60.8,202.9 80.0,203.3 107.0,202.2 140.0,201.8 200.0,201.3 243.0,201.1" fill="none" stroke="#2ea03c" stroke-width="1.35" stroke-linejoin="round" stroke-linecap="butt" opacity="1.0"/>
<polyline points="22.5,231.4 25.9,226.1 28.9,221.5 31.2,217.7 34.2,217.4 36.5,216.9 39.5,213.9 44.1,210.1 48.7,207.8 54.8,205.5 60.8,204.5 68.4,204.0 80.0,203.3 107.0,202.2 140.0,201.6 200.0,201.2 243.0,201.0" fill="none" stroke="#383838" stroke-width="1.15" stroke-linejoin="round" stroke-linecap="butt" opacity="1.0"/>
<polyline points="22.2,323.5 25.8,314.0 30.9,302.4 36.0,293.6 40.4,284.9 44.7,277.6 49.1,274.7 54.9,268.2 63.6,258.7 69.7,255.8 78.2,247.3 85.5,239.1 90.0,238.2 96.4,231.8 100.0,228.0 109.5,218.9 120.9,216.1 128.5,210.9 138.0,208.5 151.3,207.1 166.5,206.0 181.7,205.2 200.0,204.3 222.0,203.7 243.2,203.4" fill="none" stroke="#ff3838" stroke-width="1.35" stroke-linejoin="round" stroke-linecap="butt" opacity="1.0"/>
<polyline points="22.2,325.2 56.4,324.4 60.0,323.9 66.7,320.9 73.3,319.5 85.3,317.9 89.9,314.6 98.6,316.4 103.9,312.0 107.9,311.3 111.9,307.3 117.2,300.0 122.5,295.3 126.5,294.0 130.0,290.0 132.9,286.8 142.4,287.9 152.0,281.0 163.0,276.9 176.6,274.2 190.3,271.4 204.0,269.2 217.7,267.3 231.4,266.5 243.2,264.6" fill="none" stroke="#ad3cb0" stroke-width="1.15" stroke-linejoin="round" stroke-linecap="butt" opacity="1.0"/>
<rect x="154.3" y="275.8" width="88.3" height="52.3" rx="1.5" fill="#ffffff" fill-opacity="0.8" stroke="#e0e0e0" stroke-width="0.6"/>
<text x="156.8" y="282.6" font-size="6.7" text-anchor="start" fill="#333333" stroke="#333333" stroke-width="0.18" font-family='"Liberation Sans", sans-serif' font-weight="normal" textLength="81" lengthAdjust="spacingAndGlyphs">Dose-Optimisation Approach</text>
<line x1="157.3" y1="289.1" x2="169.60000000000002" y2="289.1" stroke="#4040ff" stroke-width="1.15"/>
<text x="173.8" y="291.3" font-size="6.7" text-anchor="start" fill="#333333" stroke="#333333" stroke-width="0.18" font-family='"Liberation Sans", sans-serif' font-weight="normal" textLength="58" lengthAdjust="spacingAndGlyphs">Very Strong, Correct</text>
<line x1="157.3" y1="297.5" x2="169.60000000000002" y2="297.5" stroke="#2ea03c" stroke-width="1.45"/>
<text x="173.8" y="299.7" font-size="6.7" text-anchor="start" fill="#333333" stroke="#333333" stroke-width="0.18" font-family='"Liberation Sans", sans-serif' font-weight="normal" textLength="43.5" lengthAdjust="spacingAndGlyphs">Strong, Correct</text>
<line x1="157.3" y1="305.9" x2="169.60000000000002" y2="305.9" stroke="#383838" stroke-width="1.15"/>
<text x="173.8" y="308.1" font-size="6.7" text-anchor="start" fill="#333333" stroke="#333333" stroke-width="0.18" font-family='"Liberation Sans", sans-serif' font-weight="normal" textLength="24.5" lengthAdjust="spacingAndGlyphs">No Prior</text>
<line x1="157.3" y1="314.3" x2="169.60000000000002" y2="314.3" stroke="#ff3838" stroke-width="1.45"/>
<text x="173.8" y="316.5" font-size="6.7" text-anchor="start" fill="#333333" stroke="#333333" stroke-width="0.18" font-family='"Liberation Sans", sans-serif' font-weight="normal" textLength="48.5" lengthAdjust="spacingAndGlyphs">Strong, Incorrect</text>
<line x1="157.3" y1="322.6" x2="169.60000000000002" y2="322.6" stroke="#ad3cb0" stroke-width="1.15"/>
<text x="173.8" y="324.8" font-size="6.7" text-anchor="start" fill="#333333" stroke="#333333" stroke-width="0.18" font-family='"Liberation Sans", sans-serif' font-weight="normal" textLength="63" lengthAdjust="spacingAndGlyphs">Very Strong, Incorrect</text>
<rect x="298.9" y="194.4" width="220.6" height="135.9" fill="none" stroke="#d4d4d4" stroke-width="0.9"/>
<line x1="297.29999999999995" y1="330.5" x2="298.9" y2="330.5" stroke="#333" stroke-width="0.8"/>
<text x="296.3" y="332.4" font-size="5.3" text-anchor="end" fill="#333333" stroke="#333333" stroke-width="0.18" font-family='"Liberation Sans", sans-serif' font-weight="normal">0</text>
<line x1="297.29999999999995" y1="305.4" x2="298.9" y2="305.4" stroke="#333" stroke-width="0.8"/>
<text x="296.3" y="307.3" font-size="5.3" text-anchor="end" fill="#333333" stroke="#333333" stroke-width="0.18" font-family='"Liberation Sans", sans-serif' font-weight="normal">50</text>
<line x1="297.29999999999995" y1="280.3" x2="298.9" y2="280.3" stroke="#333" stroke-width="0.8"/>
<text x="296.3" y="282.2" font-size="5.3" text-anchor="end" fill="#333333" stroke="#333333" stroke-width="0.18" font-family='"Liberation Sans", sans-serif' font-weight="normal">100</text>
<line x1="297.29999999999995" y1="255.2" x2="298.9" y2="255.2" stroke="#333" stroke-width="0.8"/>
<text x="296.3" y="257.1" font-size="5.3" text-anchor="end" fill="#333333" stroke="#333333" stroke-width="0.18" font-family='"Liberation Sans", sans-serif' font-weight="normal">150</text>
<line x1="297.29999999999995" y1="230.1" x2="298.9" y2="230.1" stroke="#333" stroke-width="0.8"/>
<text x="296.3" y="232.0" font-size="5.3" text-anchor="end" fill="#333333" stroke="#333333" stroke-width="0.18" font-family='"Liberation Sans", sans-serif' font-weight="normal">200</text>
<line x1="297.29999999999995" y1="205.0" x2="298.9" y2="205.0" stroke="#333" stroke-width="0.8"/>
<text x="296.3" y="206.9" font-size="5.3" text-anchor="end" fill="#333333" stroke="#333333" stroke-width="0.18" font-family='"Liberation Sans", sans-serif' font-weight="normal">250</text>
<line x1="298.9" y1="330.3" x2="298.9" y2="331.90000000000003" stroke="#333" stroke-width="0.8"/>
<text x="298.9" y="336.8" font-size="5.3" text-anchor="middle" fill="#333333" stroke="#333333" stroke-width="0.18" font-family='"Liberation Sans", sans-serif' font-weight="normal">0</text>
<line x1="303.3" y1="330.3" x2="303.3" y2="331.90000000000003" stroke="#333" stroke-width="0.8"/>
<text x="303.3" y="336.8" font-size="5.3" text-anchor="middle" fill="#333333" stroke="#333333" stroke-width="0.18" font-family='"Liberation Sans", sans-serif' font-weight="normal">6</text>
<line x1="321.0" y1="330.3" x2="321.0" y2="331.90000000000003" stroke="#333" stroke-width="0.8"/>
<text x="321.0" y="336.8" font-size="5.3" text-anchor="middle" fill="#333333" stroke="#333333" stroke-width="0.18" font-family='"Liberation Sans", sans-serif' font-weight="normal">30</text>
<line x1="343.0" y1="330.3" x2="343.0" y2="331.90000000000003" stroke="#333" stroke-width="0.8"/>
<text x="343.0" y="336.8" font-size="5.3" text-anchor="middle" fill="#333333" stroke="#333333" stroke-width="0.18" font-family='"Liberation Sans", sans-serif' font-weight="normal">60</text>
<line x1="365.1" y1="330.3" x2="365.1" y2="331.90000000000003" stroke="#333" stroke-width="0.8"/>
<text x="365.1" y="336.8" font-size="5.3" text-anchor="middle" fill="#333333" stroke="#333333" stroke-width="0.18" font-family='"Liberation Sans", sans-serif' font-weight="normal">90</text>
<line x1="387.1" y1="330.3" x2="387.1" y2="331.90000000000003" stroke="#333" stroke-width="0.8"/>
<text x="387.1" y="336.8" font-size="5.3" text-anchor="middle" fill="#333333" stroke="#333333" stroke-width="0.18" font-family='"Liberation Sans", sans-serif' font-weight="normal">120</text>
<line x1="409.2" y1="330.3" x2="409.2" y2="331.90000000000003" stroke="#333" stroke-width="0.8"/>
<text x="409.2" y="336.8" font-size="5.3" text-anchor="middle" fill="#333333" stroke="#333333" stroke-width="0.18" font-family='"Liberation Sans", sans-serif' font-weight="normal">150</text>
<line x1="431.3" y1="330.3" x2="431.3" y2="331.90000000000003" stroke="#333" stroke-width="0.8"/>
<text x="431.3" y="336.8" font-size="5.3" text-anchor="middle" fill="#333333" stroke="#333333" stroke-width="0.18" font-family='"Liberation Sans", sans-serif' font-weight="normal">180</text>
<line x1="453.3" y1="330.3" x2="453.3" y2="331.90000000000003" stroke="#333" stroke-width="0.8"/>
<text x="453.3" y="336.8" font-size="5.3" text-anchor="middle" fill="#333333" stroke="#333333" stroke-width="0.18" font-family='"Liberation Sans", sans-serif' font-weight="normal">210</text>
<line x1="475.4" y1="330.3" x2="475.4" y2="331.90000000000003" stroke="#333" stroke-width="0.8"/>
<text x="475.4" y="336.8" font-size="5.3" text-anchor="middle" fill="#333333" stroke="#333333" stroke-width="0.18" font-family='"Liberation Sans", sans-serif' font-weight="normal">240</text>
<line x1="497.4" y1="330.3" x2="497.4" y2="331.90000000000003" stroke="#333" stroke-width="0.8"/>
<text x="497.4" y="336.8" font-size="5.3" text-anchor="middle" fill="#333333" stroke="#333333" stroke-width="0.18" font-family='"Liberation Sans", sans-serif' font-weight="normal">270</text>
<line x1="519.5" y1="330.3" x2="519.5" y2="331.90000000000003" stroke="#333" stroke-width="0.8"/>
<text x="519.5" y="336.8" font-size="5.3" text-anchor="middle" fill="#333333" stroke="#333333" stroke-width="0.18" font-family='"Liberation Sans", sans-serif' font-weight="normal">300</text>
<text x="409.2" y="193.8" font-size="7.1" text-anchor="middle" fill="#333333" stroke="#333333" stroke-width="0.18" font-family='"Liberation Sans", sans-serif' font-weight="normal" textLength="73.8" lengthAdjust="spacingAndGlyphs">Objective 4, Scenario 6</text>
<text x="409.2" y="342.6" font-size="6.3" text-anchor="middle" fill="#333333" stroke="#333333" stroke-width="0.18" font-family='"Liberation Sans", sans-serif' font-weight="normal" textLength="80.8" lengthAdjust="spacingAndGlyphs">Number Of Trial Participants</text>
<text x="0" y="0" font-size="6.3" text-anchor="middle" fill="#333333" stroke="#333333" stroke-width="0.18" font-family='"Liberation Sans", sans-serif' textLength="98" lengthAdjust="spacingAndGlyphs" transform="translate(285.3,262.35) rotate(-90)">Mean Cumulative Sum of Efficacy</text>
<text x="401.4" y="359.8" font-size="11.5" text-anchor="middle" fill="#333333" stroke="#333333" stroke-width="0.18" font-family='"Liberation Serif", serif' font-weight="bold">(l)</text>
<polyline points="298.9,330.5 519.5,195.0" fill="none" stroke="#e05a5a" stroke-width="1.1" stroke-linejoin="round" stroke-linecap="butt" opacity="1.0"/>
<polyline points="298.9,330.5 519.5,315.4" fill="none" stroke="#e05a5a" stroke-width="1.1" stroke-linejoin="round" stroke-linecap="butt" opacity="1.0"/>
<polyline points="298.9,330.5 301.7,328.9 304.5,327.2 307.3,325.6 310.1,323.9 312.9,322.3 315.7,320.6 318.4,319.0 321.2,317.3 324.0,315.7 326.8,314.1 329.6,312.4 332.4,310.8 335.2,309.1 338.0,307.5 340.8,305.8 343.6,304.2 346.4,302.5 349.2,300.9 352.0,299.2 354.7,297.6 357.5,296.0 360.3,294.3 363.1,292.7 365.9,291.0 368.7,289.4 371.5,287.7 374.3,286.1 377.1,284.4 379.9,282.8 382.7,281.2 385.5,279.5 388.3,277.9 391.0,276.2 393.8,274.6 396.6,272.9 399.4,271.3 402.2,269.6 405.0,268.0 407.8,266.4 410.6,264.7 413.4,263.1 416.2,261.4 419.0,259.8 421.8,258.1 424.6,256.4 427.4,254.7 430.1,253.0 432.9,251.3 435.7,249.6 438.5,247.9 441.3,246.2 444.1,244.5 446.9,242.8 449.7,241.1 452.5,239.4 455.3,237.7 458.1,236.0 460.9,234.3 463.7,232.6 466.4,230.9 469.2,229.3 472.0,227.6 474.8,225.9 477.6,224.2 480.4,222.5 483.2,220.8 486.0,219.1 488.8,217.4 491.6,215.7 494.4,214.0 497.2,212.3 500.0,210.6 502.7,208.9 505.5,207.2 508.3,205.5 511.1,203.8 513.9,202.1 516.7,200.4 519.5,198.7" fill="none" stroke="#4040ff" stroke-width="1.15" stroke-linejoin="round" stroke-linecap="butt" opacity="1.0"/>
<polyline points="298.9,330.5 301.7,328.4 304.5,326.5 307.3,324.8 310.1,323.3 312.9,321.7 315.7,320.2 318.4,318.7 321.2,317.2 324.0,315.7 326.8,314.2 329.6,312.7 332.4,311.1 335.2,309.6 338.0,308.1 340.8,306.6 343.6,305.1 346.4,303.6 349.2,302.1 352.0,300.5 354.7,299.0 357.5,297.5 360.3,296.0 363.1,294.5 365.9,293.0 368.7,291.5 371.5,290.0 374.3,288.4 377.1,286.9 379.9,285.4 382.7,283.9 385.5,282.4 388.3,280.9 391.0,279.4 393.8,277.9 396.6,276.3 399.4,274.8 402.2,273.3 405.0,271.8 407.8,270.3 410.6,268.8 413.4,267.3 416.2,265.7 419.0,264.2 421.8,262.7 424.6,261.2 427.4,259.7 430.1,258.2 432.9,256.7 435.7,255.2 438.5,253.6 441.3,252.1 444.1,250.6 446.9,249.1 449.7,247.6 452.5,246.1 455.3,244.6 458.1,243.0 460.9,241.5 463.7,240.0 466.4,238.5 469.2,237.0 472.0,235.5 474.8,234.0 477.6,232.5 480.4,230.9 483.2,229.4 486.0,227.9 488.8,226.4 491.6,224.9 494.4,223.4 497.2,221.9 500.0,220.4 502.7,218.8 505.5,217.3 508.3,215.8 511.1,214.3 513.9,212.8 516.7,211.3 519.5,209.8" fill="none" stroke="#2ea03c" stroke-width="1.35" stroke-linejoin="round" stroke-linecap="butt" opacity="1.0"/>
<polyline points="298.9,330.5 301.7,329.4 304.5,328.3 307.3,327.2 310.1,326.1 312.9,324.9 315.7,323.7 318.4,322.5 321.2,321.3 324.0,320.0 326.8,318.7 329.6,317.5 332.4,316.2 335.2,314.8 338.0,313.5 340.8,312.2 343.6,310.8 346.4,309.5 349.2,308.1 352.0,306.7 354.7,305.3 357.5,303.9 360.3,302.5 363.1,301.1 365.9,299.7 368.7,298.2 371.5,296.8 374.3,295.3 377.1,293.9 379.9,292.4 382.7,291.0 385.5,289.5 388.3,288.1 391.0,286.6 393.8,285.1 396.6,283.6 399.4,282.1 402.2,280.7 405.0,279.2 407.8,277.7 410.6,276.2 413.4,274.7 416.2,273.2 419.0,271.7 421.8,270.2 424.6,268.7 427.4,267.2 430.1,265.7 432.9,264.2 435.7,262.7 438.5,261.2 441.3,259.6 444.1,258.1 446.9,256.6 449.7,255.1 452.5,253.6 455.3,252.1 458.1,250.6 460.9,249.0 463.7,247.5 466.4,246.0 469.2,244.5 472.0,243.0 474.8,241.5 477.6,239.9 480.4,238.4 483.2,236.9 486.0,235.4 488.8,233.8 491.6,232.3 494.4,230.8 497.2,229.3 500.0,227.8 502.7,226.2 505.5,224.7 508.3,223.2 511.1,221.7 513.9,220.1 516.7,218.6 519.5,217.1" fill="none" stroke="#383838" stroke-width="1.15" stroke-linejoin="round" stroke-linecap="butt" opacity="1.0"/>
<polyline points="298.9,330.5 301.7,330.0 304.5,329.5 307.3,329.0 310.1,328.4 312.9,327.8 315.7,327.1 318.4,326.5 321.2,325.7 324.0,325.0 326.8,324.2 329.6,323.4 332.4,322.5 335.2,321.6 338.0,320.7 340.8,319.8 343.6,318.8 346.4,317.8 349.2,316.8 352.0,315.8 354.7,314.7 357.5,313.6 360.3,312.5 363.1,311.3 365.9,310.2 368.7,309.0 371.5,307.8 374.3,306.6 377.1,305.3 379.9,304.1 382.7,302.8 385.5,301.5 388.3,300.2 391.0,298.8 393.8,297.5 396.6,296.1 399.4,294.8 402.2,293.4 405.0,292.0 407.8,290.6 410.6,289.1 413.4,287.7 416.2,286.2 419.0,284.8 421.8,283.3 424.6,281.8 427.4,280.3 430.1,278.8 432.9,277.3 435.7,275.8 438.5,274.3 441.3,272.8 444.1,271.2 446.9,269.7 449.7,268.1 452.5,266.6 455.3,265.0 458.1,263.4 460.9,261.9 463.7,260.3 466.4,258.7 469.2,257.1 472.0,255.5 474.8,253.9 477.6,252.3 480.4,250.7 483.2,249.1 486.0,247.5 488.8,245.8 491.6,244.2 494.4,242.6 497.2,241.0 500.0,239.3 502.7,237.7 505.5,236.1 508.3,234.4 511.1,232.8 513.9,231.1 516.7,229.5 519.5,227.8" fill="none" stroke="#ff3838" stroke-width="1.35" stroke-linejoin="round" stroke-linecap="butt" opacity="1.0"/>
<polyline points="298.9,330.5 301.7,330.3 304.5,330.2 307.3,330.0 310.1,329.8 312.9,329.5 315.7,329.3 318.4,329.0 321.2,328.7 324.0,328.5 326.8,328.2 329.6,327.8 332.4,327.5 335.2,327.2 338.0,326.8 340.8,326.4 343.6,326.0 346.4,325.6 349.2,325.2 352.0,324.8 354.7,324.3 357.5,323.9 360.3,323.4 363.1,322.9 365.9,322.4 368.7,321.9 371.5,321.4 374.3,320.9 377.1,320.3 379.9,319.8 382.7,319.2 385.5,318.6 388.3,318.0 391.0,317.4 393.8,316.8 396.6,316.2 399.4,315.6 402.2,314.9 405.0,314.3 407.8,313.6 410.6,312.9 413.4,312.2 416.2,311.5 419.0,310.8 421.8,310.1 424.6,309.4 427.4,308.7 430.1,307.9 432.9,307.2 435.7,306.4 438.5,305.7 441.3,304.9 444.1,304.1 446.9,303.3 449.7,302.6 452.5,301.8 455.3,300.9 458.1,300.1 460.9,299.3 463.7,298.5 466.4,297.6 469.2,296.8 472.0,295.9 474.8,295.1 477.6,294.2 480.4,293.4 483.2,292.5 486.0,291.6 488.8,290.7 491.6,289.8 494.4,288.9 497.2,288.0 500.0,287.1 502.7,286.2 505.5,285.3 508.3,284.4 511.1,283.4 513.9,282.5 516.7,281.6 519.5,280.6" fill="none" stroke="#ad3cb0" stroke-width="1.15" stroke-linejoin="round" stroke-linecap="butt" opacity="1.0"/>
<rect x="429.9" y="275.5" width="88.9" height="52.3" rx="1.5" fill="#ffffff" fill-opacity="0.8" stroke="#e0e0e0" stroke-width="0.6"/>
<text x="432.4" y="282.6" font-size="6.7" text-anchor="start" fill="#333333" stroke="#333333" stroke-width="0.18" font-family='"Liberation Sans", sans-serif' font-weight="normal" textLength="81" lengthAdjust="spacingAndGlyphs">Dose-Optimisation Approach</text>
<line x1="432.9" y1="289.0" x2="445.2" y2="289.0" stroke="#4040ff" stroke-width="1.15"/>
<text x="449.4" y="291.2" font-size="6.7" text-anchor="start" fill="#333333" stroke="#333333" stroke-width="0.18" font-family='"Liberation Sans", sans-serif' font-weight="normal" textLength="58" lengthAdjust="spacingAndGlyphs">Very Strong, Correct</text>
<line x1="432.9" y1="297.4" x2="445.2" y2="297.4" stroke="#2ea03c" stroke-width="1.45"/>
<text x="449.4" y="299.6" font-size="6.7" text-anchor="start" fill="#333333" stroke="#333333" stroke-width="0.18" font-family='"Liberation Sans", sans-serif' font-weight="normal" textLength="43.5" lengthAdjust="spacingAndGlyphs">Strong, Correct</text>
<line x1="432.9" y1="305.8" x2="445.2" y2="305.8" stroke="#383838" stroke-width="1.15"/>
<text x="449.4" y="308.0" font-size="6.7" text-anchor="start" fill="#333333" stroke="#333333" stroke-width="0.18" font-family='"Liberation Sans", sans-serif' font-weight="normal" textLength="24.5" lengthAdjust="spacingAndGlyphs">No Prior</text>
<line x1="432.9" y1="314.2" x2="445.2" y2="314.2" stroke="#ff3838" stroke-width="1.45"/>
<text x="449.4" y="316.4" font-size="6.7" text-anchor="start" fill="#333333" stroke="#333333" stroke-width="0.18" font-family='"Liberation Sans", sans-serif' font-weight="normal" textLength="48.5" lengthAdjust="spacingAndGlyphs">Strong, Incorrect</text>
<line x1="432.9" y1="322.6" x2="445.2" y2="322.6" stroke="#ad3cb0" stroke-width="1.15"/>
<text x="449.4" y="324.8" font-size="6.7" text-anchor="start" fill="#333333" stroke="#333333" stroke-width="0.18" font-family='"Liberation Sans", sans-serif' font-weight="normal" textLength="63" lengthAdjust="spacingAndGlyphs">Very Strong, Incorrect</text>
<rect x="24.3" y="379.4" width="219.2" height="135.8" fill="none" stroke="#d4d4d4" stroke-width="0.9"/>
<line x1="22.7" y1="511.4" x2="24.3" y2="511.4" stroke="#333" stroke-width="0.8"/>
<text x="21.7" y="513.3" font-size="5.3" text-anchor="end" fill="#333333" stroke="#333333" stroke-width="0.18" font-family='"Liberation Sans", sans-serif' font-weight="normal">−0.6</text>
<line x1="22.7" y1="486.2" x2="24.3" y2="486.2" stroke="#333" stroke-width="0.8"/>
<text x="21.7" y="488.1" font-size="5.3" text-anchor="end" fill="#333333" stroke="#333333" stroke-width="0.18" font-family='"Liberation Sans", sans-serif' font-weight="normal">−0.4</text>
<line x1="22.7" y1="460.9" x2="24.3" y2="460.9" stroke="#333" stroke-width="0.8"/>
<text x="21.7" y="462.8" font-size="5.3" text-anchor="end" fill="#333333" stroke="#333333" stroke-width="0.18" font-family='"Liberation Sans", sans-serif' font-weight="normal">−0.2</text>
<line x1="22.7" y1="435.7" x2="24.3" y2="435.7" stroke="#333" stroke-width="0.8"/>
<text x="21.7" y="437.6" font-size="5.3" text-anchor="end" fill="#333333" stroke="#333333" stroke-width="0.18" font-family='"Liberation Sans", sans-serif' font-weight="normal">0.0</text>
<line x1="22.7" y1="410.5" x2="24.3" y2="410.5" stroke="#333" stroke-width="0.8"/>
<text x="21.7" y="412.4" font-size="5.3" text-anchor="end" fill="#333333" stroke="#333333" stroke-width="0.18" font-family='"Liberation Sans", sans-serif' font-weight="normal">0.2</text>
<line x1="22.7" y1="385.2" x2="24.3" y2="385.2" stroke="#333" stroke-width="0.8"/>
<text x="21.7" y="387.1" font-size="5.3" text-anchor="end" fill="#333333" stroke="#333333" stroke-width="0.18" font-family='"Liberation Sans", sans-serif' font-weight="normal">0.4</text>
<line x1="24.3" y1="515.2" x2="24.3" y2="516.8000000000001" stroke="#333" stroke-width="0.8"/>
<text x="24.3" y="521.7" font-size="5.3" text-anchor="middle" fill="#333333" stroke="#333333" stroke-width="0.18" font-family='"Liberation Sans", sans-serif' font-weight="normal">6</text>
<line x1="42.2" y1="515.2" x2="42.2" y2="516.8000000000001" stroke="#333" stroke-width="0.8"/>
<text x="42.2" y="521.7" font-size="5.3" text-anchor="middle" fill="#333333" stroke="#333333" stroke-width="0.18" font-family='"Liberation Sans", sans-serif' font-weight="normal">30</text>
<line x1="64.6" y1="515.2" x2="64.6" y2="516.8000000000001" stroke="#333" stroke-width="0.8"/>
<text x="64.6" y="521.7" font-size="5.3" text-anchor="middle" fill="#333333" stroke="#333333" stroke-width="0.18" font-family='"Liberation Sans", sans-serif' font-weight="normal">60</text>
<line x1="86.9" y1="515.2" x2="86.9" y2="516.8000000000001" stroke="#333" stroke-width="0.8"/>
<text x="86.9" y="521.7" font-size="5.3" text-anchor="middle" fill="#333333" stroke="#333333" stroke-width="0.18" font-family='"Liberation Sans", sans-serif' font-weight="normal">90</text>
<line x1="109.3" y1="515.2" x2="109.3" y2="516.8000000000001" stroke="#333" stroke-width="0.8"/>
<text x="109.3" y="521.7" font-size="5.3" text-anchor="middle" fill="#333333" stroke="#333333" stroke-width="0.18" font-family='"Liberation Sans", sans-serif' font-weight="normal">120</text>
<line x1="131.7" y1="515.2" x2="131.7" y2="516.8000000000001" stroke="#333" stroke-width="0.8"/>
<text x="131.7" y="521.7" font-size="5.3" text-anchor="middle" fill="#333333" stroke="#333333" stroke-width="0.18" font-family='"Liberation Sans", sans-serif' font-weight="normal">150</text>
<line x1="154.0" y1="515.2" x2="154.0" y2="516.8000000000001" stroke="#333" stroke-width="0.8"/>
<text x="154.0" y="521.7" font-size="5.3" text-anchor="middle" fill="#333333" stroke="#333333" stroke-width="0.18" font-family='"Liberation Sans", sans-serif' font-weight="normal">180</text>
<line x1="176.4" y1="515.2" x2="176.4" y2="516.8000000000001" stroke="#333" stroke-width="0.8"/>
<text x="176.4" y="521.7" font-size="5.3" text-anchor="middle" fill="#333333" stroke="#333333" stroke-width="0.18" font-family='"Liberation Sans", sans-serif' font-weight="normal">210</text>
<line x1="198.8" y1="515.2" x2="198.8" y2="516.8000000000001" stroke="#333" stroke-width="0.8"/>
<text x="198.8" y="521.7" font-size="5.3" text-anchor="middle" fill="#333333" stroke="#333333" stroke-width="0.18" font-family='"Liberation Sans", sans-serif' font-weight="normal">240</text>
<line x1="221.1" y1="515.2" x2="221.1" y2="516.8000000000001" stroke="#333" stroke-width="0.8"/>
<text x="221.1" y="521.7" font-size="5.3" text-anchor="middle" fill="#333333" stroke="#333333" stroke-width="0.18" font-family='"Liberation Sans", sans-serif' font-weight="normal">270</text>
<line x1="243.5" y1="515.2" x2="243.5" y2="516.8000000000001" stroke="#333" stroke-width="0.8"/>
<text x="243.5" y="521.7" font-size="5.3" text-anchor="middle" fill="#333333" stroke="#333333" stroke-width="0.18" font-family='"Liberation Sans", sans-serif' font-weight="normal">300</text>
<text x="133.9" y="378.8" font-size="7.1" text-anchor="middle" fill="#333333" stroke="#333333" stroke-width="0.18" font-family='"Liberation Sans", sans-serif' font-weight="normal" textLength="32.08695652173913" lengthAdjust="spacingAndGlyphs">Scenario 7</text>
<text x="133.9" y="527.6" font-size="6.3" text-anchor="middle" fill="#333333" stroke="#333333" stroke-width="0.18" font-family='"Liberation Sans", sans-serif' font-weight="normal" textLength="80.8" lengthAdjust="spacingAndGlyphs">Number Of Trial Participants</text>
<text x="0" y="0" font-size="6.3" text-anchor="middle" fill="#333333" stroke="#333333" stroke-width="0.18" font-family='"Liberation Sans", sans-serif' textLength="122.7" lengthAdjust="spacingAndGlyphs" transform="translate(8.0,447.3) rotate(-90)">Mean true utility at predicted optimal dose</text>
<text x="125.9" y="544.8" font-size="11.5" text-anchor="middle" fill="#333333" stroke="#333333" stroke-width="0.18" font-family='"Liberation Serif", serif' font-weight="bold">(m)</text>
<polygon points="24.3,390.5 29.2,394.9 35.8,395.7 41.1,398.1 46.4,397.6 51.7,395.7 59.6,396.2 68.8,391.8 82.0,393.6 93.9,392.3 109.7,390.5 125.5,387.8 130.0,388.9 143.2,390.0 156.4,388.1 182.8,388.1 198.6,386.8 243.5,385.5 243.5,388.3 198.6,389.6 182.8,390.9 156.4,390.9 143.2,392.8 130.0,391.7 125.5,392.8 109.7,395.5 93.9,397.3 82.0,398.6 68.8,396.8 59.6,401.2 51.7,400.7 46.4,402.6 41.1,403.1 35.8,400.7 29.2,399.9 24.3,395.5" fill="#90d890" opacity="0.35" stroke="none"/>
<polygon points="24.3,428.7 28.7,429.8 36.0,421.1 42.6,414.5 50.6,411.2 55.9,410.5 61.3,407.2 67.9,405.8 77.2,404.5 82.6,401.2 89.2,397.9 96.5,398.4 107.0,399.4 117.6,394.6 130.8,393.6 140.0,392.0 143.2,392.0 151.1,394.1 161.7,391.5 182.8,389.4 198.6,386.7 217.1,386.2 243.5,384.9 243.5,388.9 217.1,390.2 198.6,390.7 182.8,393.4 161.7,395.5 151.1,398.1 143.2,396.0 140.0,396.0 130.8,397.6 117.6,398.6 107.0,403.4 96.5,406.0 89.2,405.5 82.6,408.8 77.2,412.1 67.9,413.4 61.3,414.8 55.9,418.1 50.6,418.8 42.6,422.1 36.0,428.7 28.7,437.4 24.3,436.3" fill="#b8b8b8" opacity="0.45" stroke="none"/>
<polygon points="24.3,471.8 28.9,466.5 32.7,458.2 37.8,450.6 46.7,442.3 50.5,443.6 55.6,439.7 64.5,435.9 68.4,436.6 79.8,431.5 90.0,428.1 96.7,424.8 103.3,422.1 110.0,418.1 116.6,414.8 125.9,410.8 135.2,406.2 143.2,403.3 148.6,402.0 153.9,402.6 160.0,399.3 171.7,398.0 182.1,394.8 192.6,392.7 203.0,391.7 213.5,390.2 224.0,389.6 234.4,389.2 243.5,388.6 243.5,392.6 234.4,393.2 224.0,393.6 213.5,394.2 203.0,395.7 192.6,396.7 182.1,398.8 171.7,402.0 160.0,403.3 153.9,406.6 148.6,406.0 143.2,407.3 135.2,413.8 125.9,418.4 116.6,422.4 110.0,425.7 103.3,429.7 96.7,432.4 90.0,435.7 79.8,439.1 68.4,444.2 64.5,443.5 55.6,447.3 50.5,451.2 46.7,449.9 37.8,458.2 32.7,465.8 28.9,474.1 24.3,479.4" fill="#ff9a9a" opacity="0.4" stroke="none"/>
<polygon points="24.3,457.6 30.2,463.9 34.0,466.5 42.9,471.6 51.8,475.4 58.2,475.0 65.8,473.7 73.5,473.7 78.5,473.8 80.0,473.0 86.1,468.5 92.2,465.4 99.8,461.6 104.3,462.8 110.4,460.4 116.5,459.3 122.6,456.3 127.1,457.8 132.5,454.8 139.3,455.2 145.4,453.3 153.0,451.8 160.0,449.6 166.4,448.8 172.0,448.0 176.0,449.6 184.0,446.9 193.5,444.8 204.7,444.3 214.3,443.7 220.7,442.7 230.3,442.7 235.1,441.9 243.5,442.1 243.5,446.5 235.1,446.3 230.3,447.1 220.7,447.1 214.3,448.1 204.7,448.7 193.5,449.2 184.0,451.3 176.0,454.0 172.0,452.4 166.4,453.2 160.0,454.0 153.0,456.2 145.4,457.7 139.3,462.8 132.5,462.4 127.1,465.4 122.6,463.9 116.5,466.9 110.4,468.0 104.3,470.4 99.8,469.2 92.2,473.0 86.1,476.1 80.0,480.6 78.5,481.4 73.5,481.3 65.8,481.3 58.2,482.6 51.8,483.0 42.9,479.2 34.0,474.1 30.2,471.5 24.3,465.2" fill="#d890d8" opacity="0.35" stroke="none"/>
<polyline points="24.3,510.9 243.5,510.9" fill="none" stroke="#e05a5a" stroke-width="1.0" stroke-linejoin="round" stroke-linecap="butt" opacity="1.0"/>
<polyline points="24.3,384.8 243.5,384.8" fill="none" stroke="#e05a5a" stroke-width="1.2" stroke-linejoin="round" stroke-linecap="butt" opacity="1.0"/>
<polyline points="24.3,384.9 45.0,385.6 60.0,386.2 134.0,386.4 197.0,386.0 243.5,386.6" fill="none" stroke="#4040ff" stroke-width="1.15" stroke-linejoin="round" stroke-linecap="butt" opacity="1.0"/>
<polyline points="24.3,393.0 29.2,397.4 35.8,398.2 41.1,400.6 46.4,400.1 51.7,398.2 59.6,398.7 68.8,394.3 82.0,396.1 93.9,394.8 109.7,393.0 125.5,390.3 130.0,390.3 143.2,391.4 156.4,389.5 182.8,389.5 198.6,388.2 243.5,386.9" fill="none" stroke="#2ea03c" stroke-width="1.35" stroke-linejoin="round" stroke-linecap="butt" opacity="1.0"/>
<polyline points="24.3,432.5 28.7,433.6 36.0,424.9 42.6,418.3 50.6,415.0 55.9,414.3 61.3,411.0 67.9,409.6 77.2,408.3 82.6,405.0 89.2,401.7 96.5,402.2 107.0,401.4 117.6,396.6 130.8,395.6 140.0,394.0 143.2,394.0 151.1,396.1 161.7,393.5 182.8,391.4 198.6,388.7 217.1,388.2 243.5,386.9" fill="none" stroke="#383838" stroke-width="1.15" stroke-linejoin="round" stroke-linecap="butt" opacity="1.0"/>
<polyline points="24.3,475.6 28.9,470.3 32.7,462.0 37.8,454.4 46.7,446.1 50.5,447.4 55.6,443.5 64.5,439.7 68.4,440.4 79.8,435.3 90.0,431.9 96.7,428.6 103.3,425.9 110.0,421.9 116.6,418.6 125.9,414.6 135.2,410.0 143.2,405.3 148.6,404.0 153.9,404.6 160.0,401.3 171.7,400.0 182.1,396.8 192.6,394.7 203.0,393.7 213.5,392.2 224.0,391.6 234.4,391.2 243.5,390.6" fill="none" stroke="#ff3838" stroke-width="1.35" stroke-linejoin="round" stroke-linecap="butt" opacity="1.0"/>
<polyline points="24.3,461.4 30.2,467.7 34.0,470.3 42.9,475.4 51.8,479.2 58.2,478.8 65.8,477.5 73.5,477.5 78.5,477.6 80.0,476.8 86.1,472.3 92.2,469.2 99.8,465.4 104.3,466.6 110.4,464.2 116.5,463.1 122.6,460.1 127.1,461.6 132.5,458.6 139.3,459.0 145.4,455.5 153.0,454.0 160.0,451.8 166.4,451.0 172.0,450.2 176.0,451.8 184.0,449.1 193.5,447.0 204.7,446.5 214.3,445.9 220.7,444.9 230.3,444.9 235.1,444.1 243.5,444.3" fill="none" stroke="#ad3cb0" stroke-width="1.15" stroke-linejoin="round" stroke-linecap="butt" opacity="1.0"/>
<rect x="155.0" y="460.6" width="87.8" height="52.0" rx="1.5" fill="#ffffff" fill-opacity="0.8" stroke="#e0e0e0" stroke-width="0.6"/>
<text x="157.5" y="467.3" font-size="6.7" text-anchor="start" fill="#333333" stroke="#333333" stroke-width="0.18" font-family='"Liberation Sans", sans-serif' font-weight="normal" textLength="81" lengthAdjust="spacingAndGlyphs">Dose-Optimisation Approach</text>
<line x1="158.0" y1="473.7" x2="170.3" y2="473.7" stroke="#4040ff" stroke-width="1.15"/>
<text x="174.5" y="475.9" font-size="6.7" text-anchor="start" fill="#333333" stroke="#333333" stroke-width="0.18" font-family='"Liberation Sans", sans-serif' font-weight="normal" textLength="58" lengthAdjust="spacingAndGlyphs">Very Strong, Correct</text>
<line x1="158.0" y1="482.1" x2="170.3" y2="482.1" stroke="#2ea03c" stroke-width="1.45"/>
<text x="174.5" y="484.3" font-size="6.7" text-anchor="start" fill="#333333" stroke="#333333" stroke-width="0.18" font-family='"Liberation Sans", sans-serif' font-weight="normal" textLength="43.5" lengthAdjust="spacingAndGlyphs">Strong, Correct</text>
<line x1="158.0" y1="490.5" x2="170.3" y2="490.5" stroke="#383838" stroke-width="1.15"/>
<text x="174.5" y="492.7" font-size="6.7" text-anchor="start" fill="#333333" stroke="#333333" stroke-width="0.18" font-family='"Liberation Sans", sans-serif' font-weight="normal" textLength="24.5" lengthAdjust="spacingAndGlyphs">No Prior</text>
<line x1="158.0" y1="498.9" x2="170.3" y2="498.9" stroke="#ff3838" stroke-width="1.45"/>
<text x="174.5" y="501.1" font-size="6.7" text-anchor="start" fill="#333333" stroke="#333333" stroke-width="0.18" font-family='"Liberation Sans", sans-serif' font-weight="normal" textLength="48.5" lengthAdjust="spacingAndGlyphs">Strong, Incorrect</text>
<line x1="158.0" y1="507.2" x2="170.3" y2="507.2" stroke="#ad3cb0" stroke-width="1.15"/>
<text x="174.5" y="509.4" font-size="6.7" text-anchor="start" fill="#333333" stroke="#333333" stroke-width="0.18" font-family='"Liberation Sans", sans-serif' font-weight="normal" textLength="63" lengthAdjust="spacingAndGlyphs">Very Strong, Incorrect</text>
<rect x="299.2" y="379.4" width="220.3" height="135.8" fill="none" stroke="#d4d4d4" stroke-width="0.9"/>
<line x1="297.59999999999997" y1="503.1" x2="299.2" y2="503.1" stroke="#333" stroke-width="0.8"/>
<text x="296.6" y="504.9" font-size="5.3" text-anchor="end" fill="#333333" stroke="#333333" stroke-width="0.18" font-family='"Liberation Sans", sans-serif' font-weight="normal">−150</text>
<line x1="297.59999999999997" y1="480.4" x2="299.2" y2="480.4" stroke="#333" stroke-width="0.8"/>
<text x="296.6" y="482.3" font-size="5.3" text-anchor="end" fill="#333333" stroke="#333333" stroke-width="0.18" font-family='"Liberation Sans", sans-serif' font-weight="normal">−100</text>
<line x1="297.59999999999997" y1="457.8" x2="299.2" y2="457.8" stroke="#333" stroke-width="0.8"/>
<text x="296.6" y="459.6" font-size="5.3" text-anchor="end" fill="#333333" stroke="#333333" stroke-width="0.18" font-family='"Liberation Sans", sans-serif' font-weight="normal">−50</text>
<line x1="297.59999999999997" y1="435.1" x2="299.2" y2="435.1" stroke="#333" stroke-width="0.8"/>
<text x="296.6" y="437.0" font-size="5.3" text-anchor="end" fill="#333333" stroke="#333333" stroke-width="0.18" font-family='"Liberation Sans", sans-serif' font-weight="normal">0</text>
<line x1="297.59999999999997" y1="412.5" x2="299.2" y2="412.5" stroke="#333" stroke-width="0.8"/>
<text x="296.6" y="414.4" font-size="5.3" text-anchor="end" fill="#333333" stroke="#333333" stroke-width="0.18" font-family='"Liberation Sans", sans-serif' font-weight="normal">50</text>
<line x1="297.59999999999997" y1="389.8" x2="299.2" y2="389.8" stroke="#333" stroke-width="0.8"/>
<text x="296.6" y="391.7" font-size="5.3" text-anchor="end" fill="#333333" stroke="#333333" stroke-width="0.18" font-family='"Liberation Sans", sans-serif' font-weight="normal">100</text>
<line x1="299.2" y1="515.2" x2="299.2" y2="516.8000000000001" stroke="#333" stroke-width="0.8"/>
<text x="299.2" y="521.7" font-size="5.3" text-anchor="middle" fill="#333333" stroke="#333333" stroke-width="0.18" font-family='"Liberation Sans", sans-serif' font-weight="normal">0</text>
<line x1="303.6" y1="515.2" x2="303.6" y2="516.8000000000001" stroke="#333" stroke-width="0.8"/>
<text x="303.6" y="521.7" font-size="5.3" text-anchor="middle" fill="#333333" stroke="#333333" stroke-width="0.18" font-family='"Liberation Sans", sans-serif' font-weight="normal">6</text>
<line x1="321.2" y1="515.2" x2="321.2" y2="516.8000000000001" stroke="#333" stroke-width="0.8"/>
<text x="321.2" y="521.7" font-size="5.3" text-anchor="middle" fill="#333333" stroke="#333333" stroke-width="0.18" font-family='"Liberation Sans", sans-serif' font-weight="normal">30</text>
<line x1="343.3" y1="515.2" x2="343.3" y2="516.8000000000001" stroke="#333" stroke-width="0.8"/>
<text x="343.3" y="521.7" font-size="5.3" text-anchor="middle" fill="#333333" stroke="#333333" stroke-width="0.18" font-family='"Liberation Sans", sans-serif' font-weight="normal">60</text>
<line x1="365.3" y1="515.2" x2="365.3" y2="516.8000000000001" stroke="#333" stroke-width="0.8"/>
<text x="365.3" y="521.7" font-size="5.3" text-anchor="middle" fill="#333333" stroke="#333333" stroke-width="0.18" font-family='"Liberation Sans", sans-serif' font-weight="normal">90</text>
<line x1="387.3" y1="515.2" x2="387.3" y2="516.8000000000001" stroke="#333" stroke-width="0.8"/>
<text x="387.3" y="521.7" font-size="5.3" text-anchor="middle" fill="#333333" stroke="#333333" stroke-width="0.18" font-family='"Liberation Sans", sans-serif' font-weight="normal">120</text>
<line x1="409.4" y1="515.2" x2="409.4" y2="516.8000000000001" stroke="#333" stroke-width="0.8"/>
<text x="409.4" y="521.7" font-size="5.3" text-anchor="middle" fill="#333333" stroke="#333333" stroke-width="0.18" font-family='"Liberation Sans", sans-serif' font-weight="normal">150</text>
<line x1="431.4" y1="515.2" x2="431.4" y2="516.8000000000001" stroke="#333" stroke-width="0.8"/>
<text x="431.4" y="521.7" font-size="5.3" text-anchor="middle" fill="#333333" stroke="#333333" stroke-width="0.18" font-family='"Liberation Sans", sans-serif' font-weight="normal">180</text>
<line x1="453.4" y1="515.2" x2="453.4" y2="516.8000000000001" stroke="#333" stroke-width="0.8"/>
<text x="453.4" y="521.7" font-size="5.3" text-anchor="middle" fill="#333333" stroke="#333333" stroke-width="0.18" font-family='"Liberation Sans", sans-serif' font-weight="normal">210</text>
<line x1="475.4" y1="515.2" x2="475.4" y2="516.8000000000001" stroke="#333" stroke-width="0.8"/>
<text x="475.4" y="521.7" font-size="5.3" text-anchor="middle" fill="#333333" stroke="#333333" stroke-width="0.18" font-family='"Liberation Sans", sans-serif' font-weight="normal">240</text>
<line x1="497.5" y1="515.2" x2="497.5" y2="516.8000000000001" stroke="#333" stroke-width="0.8"/>
<text x="497.5" y="521.7" font-size="5.3" text-anchor="middle" fill="#333333" stroke="#333333" stroke-width="0.18" font-family='"Liberation Sans", sans-serif' font-weight="normal">270</text>
<line x1="519.5" y1="515.2" x2="519.5" y2="516.8000000000001" stroke="#333" stroke-width="0.8"/>
<text x="519.5" y="521.7" font-size="5.3" text-anchor="middle" fill="#333333" stroke="#333333" stroke-width="0.18" font-family='"Liberation Sans", sans-serif' font-weight="normal">300</text>
<text x="409.4" y="378.8" font-size="7.1" text-anchor="middle" fill="#333333" stroke="#333333" stroke-width="0.18" font-family='"Liberation Sans", sans-serif' font-weight="normal" textLength="32.08695652173913" lengthAdjust="spacingAndGlyphs">Scenario 7</text>
<text x="409.4" y="527.6" font-size="6.3" text-anchor="middle" fill="#333333" stroke="#333333" stroke-width="0.18" font-family='"Liberation Sans", sans-serif' font-weight="normal" textLength="80.8" lengthAdjust="spacingAndGlyphs">Number Of Trial Participants</text>
<text x="0" y="0" font-size="6.3" text-anchor="middle" fill="#333333" stroke="#333333" stroke-width="0.18" font-family='"Liberation Sans", sans-serif' textLength="69" lengthAdjust="spacingAndGlyphs" transform="translate(282.3,447.3) rotate(-90)">Mean Cumulative Utility</text>
<text x="401.4" y="544.8" font-size="11.5" text-anchor="middle" fill="#333333" stroke="#333333" stroke-width="0.18" font-family='"Liberation Serif", serif' font-weight="bold">(n)</text>
<polyline points="299.2,435.1 519.5,379.9" fill="none" stroke="#e05a5a" stroke-width="1.1" stroke-linejoin="round" stroke-linecap="butt" opacity="1.0"/>
<polyline points="299.2,435.1 519.5,515.2" fill="none" stroke="#e05a5a" stroke-width="1.1" stroke-linejoin="round" stroke-linecap="butt" opacity="1.0"/>
<polyline points="299.2,435.1 302.0,434.6 304.8,434.0 307.6,433.5 310.4,433.0 313.1,432.4 315.9,431.9 318.7,431.4 321.5,430.8 324.3,430.3 327.1,429.8 329.9,429.3 332.7,428.7 335.5,428.2 338.2,427.7 341.0,427.2 343.8,426.6 346.6,426.1 349.4,425.6 352.2,425.1 355.0,424.6 357.8,424.1 360.5,423.6 363.3,423.0 366.1,422.5 368.9,422.0 371.7,421.5 374.5,421.0 377.3,420.5 380.1,420.0 382.9,419.5 385.6,419.0 388.4,418.5 391.2,418.0 394.0,417.5 396.8,417.0 399.6,416.5 402.4,416.0 405.2,415.5 408.0,415.0 410.7,414.5 413.5,414.1 416.3,413.6 419.1,413.1 421.9,412.6 424.7,412.1 427.5,411.6 430.3,411.2 433.1,410.7 435.8,410.2 438.6,409.7 441.4,409.2 444.2,408.8 447.0,408.3 449.8,407.8 452.6,407.4 455.4,406.9 458.2,406.4 460.9,405.9 463.7,405.5 466.5,405.0 469.3,404.5 472.1,404.1 474.9,403.6 477.7,403.2 480.5,402.7 483.2,402.2 486.0,401.8 488.8,401.3 491.6,400.9 494.4,400.4 497.2,400.0 500.0,399.5 502.8,399.1 505.6,398.6 508.3,398.2 511.1,397.7 513.9,397.3 516.7,396.9 519.5,396.4" fill="none" stroke="#4040ff" stroke-width="1.15" stroke-linejoin="round" stroke-linecap="butt" opacity="1.0"/>
<polyline points="299.2,435.1 302.0,434.8 304.8,434.6 307.6,434.3 310.4,434.1 313.1,433.8 315.9,433.6 318.7,433.3 321.5,433.0 324.3,432.8 327.1,432.5 329.9,432.2 332.7,432.0 335.5,431.7 338.2,431.5 341.0,431.2 343.8,430.9 346.6,430.6 349.4,430.4 352.2,430.1 355.0,429.8 357.8,429.6 360.5,429.3 363.3,429.0 366.1,428.7 368.9,428.5 371.7,428.2 374.5,427.9 377.3,427.6 380.1,427.4 382.9,427.1 385.6,426.8 388.4,426.5 391.2,426.3 394.0,426.0 396.8,425.7 399.6,425.4 402.4,425.1 405.2,424.8 408.0,424.6 410.7,424.3 413.5,424.0 416.3,423.7 419.1,423.4 421.9,423.1 424.7,422.8 427.5,422.5 430.3,422.2 433.1,422.0 435.8,421.7 438.6,421.4 441.4,421.1 444.2,420.8 447.0,420.5 449.8,420.2 452.6,419.9 455.4,419.6 458.2,419.3 460.9,419.0 463.7,418.7 466.5,418.4 469.3,418.1 472.1,417.8 474.9,417.5 477.7,417.2 480.5,416.9 483.2,416.6 486.0,416.3 488.8,415.9 491.6,415.6 494.4,415.3 497.2,415.0 500.0,414.7 502.8,414.4 505.6,414.1 508.3,413.8 511.1,413.5 513.9,413.1 516.7,412.8 519.5,412.5" fill="none" stroke="#2ea03c" stroke-width="1.35" stroke-linejoin="round" stroke-linecap="butt" opacity="1.0"/>
<polyline points="299.2,435.1 302.0,435.0 304.8,434.8 307.6,434.7 310.4,434.5 313.1,434.4 315.9,434.2 318.7,434.1 321.5,433.9 324.3,433.8 327.1,433.6 329.9,433.4 332.7,433.3 335.5,433.1 338.2,432.9 341.0,432.7 343.8,432.6 346.6,432.4 349.4,432.2 352.2,432.0 355.0,431.8 357.8,431.6 360.5,431.4 363.3,431.2 366.1,431.0 368.9,430.8 371.7,430.6 374.5,430.4 377.3,430.2 380.1,430.0 382.9,429.7 385.6,429.5 388.4,429.3 391.2,429.1 394.0,428.8 396.8,428.6 399.6,428.4 402.4,428.1 405.2,427.9 408.0,427.6 410.7,427.4 413.5,427.1 416.3,426.9 419.1,426.6 421.9,426.4 424.7,426.1 427.5,425.8 430.3,425.6 433.1,425.3 435.8,425.0 438.6,424.7 441.4,424.5 444.2,424.2 447.0,423.9 449.8,423.6 452.6,423.3 455.4,423.0 458.2,422.7 460.9,422.4 463.7,422.1 466.5,421.8 469.3,421.5 472.1,421.2 474.9,420.9 477.7,420.5 480.5,420.2 483.2,419.9 486.0,419.6 488.8,419.2 491.6,418.9 494.4,418.6 497.2,418.2 500.0,417.9 502.8,417.5 505.6,417.2 508.3,416.9 511.1,416.5 513.9,416.1 516.7,415.8 519.5,415.4" fill="none" stroke="#383838" stroke-width="1.15" stroke-linejoin="round" stroke-linecap="butt" opacity="1.0"/>
<polyline points="299.2,435.1 302.0,435.2 304.8,435.2 307.6,435.3 310.4,435.3 313.1,435.4 315.9,435.4 318.7,435.4 321.5,435.4 324.3,435.4 327.1,435.3 329.9,435.3 332.7,435.2 335.5,435.2 338.2,435.1 341.0,435.0 343.8,435.0 346.6,434.9 349.4,434.8 352.2,434.6 355.0,434.5 357.8,434.4 360.5,434.3 363.3,434.1 366.1,434.0 368.9,433.8 371.7,433.6 374.5,433.5 377.3,433.3 380.1,433.1 382.9,432.9 385.6,432.7 388.4,432.5 391.2,432.3 394.0,432.1 396.8,431.9 399.6,431.6 402.4,431.4 405.2,431.2 408.0,430.9 410.7,430.7 413.5,430.5 416.3,430.2 419.1,430.0 421.9,429.7 424.7,429.4 427.5,429.2 430.3,428.9 433.1,428.6 435.8,428.4 438.6,428.1 441.4,427.8 444.2,427.5 447.0,427.2 449.8,427.0 452.6,426.7 455.4,426.4 458.2,426.1 460.9,425.8 463.7,425.5 466.5,425.2 469.3,424.9 472.1,424.6 474.9,424.3 477.7,424.0 480.5,423.6 483.2,423.3 486.0,423.0 488.8,422.7 491.6,422.4 494.4,422.1 497.2,421.7 500.0,421.4 502.8,421.1 505.6,420.8 508.3,420.4 511.1,420.1 513.9,419.8 516.7,419.5 519.5,419.1" fill="none" stroke="#ff3838" stroke-width="1.35" stroke-linejoin="round" stroke-linecap="butt" opacity="1.0"/>
<polyline points="299.2,435.1 302.0,435.6 304.8,436.0 307.6,436.5 310.4,436.9 313.1,437.4 315.9,437.8 318.7,438.2 321.5,438.6 324.3,439.0 327.1,439.4 329.9,439.8 332.7,440.2 335.5,440.5 338.2,440.9 341.0,441.2 343.8,441.5 346.6,441.9 349.4,442.2 352.2,442.5 355.0,442.8 357.8,443.0 360.5,443.3 363.3,443.6 366.1,443.8 368.9,444.0 371.7,444.3 374.5,444.5 377.3,444.7 380.1,444.9 382.9,445.1 385.6,445.3 388.4,445.4 391.2,445.6 394.0,445.8 396.8,445.9 399.6,446.0 402.4,446.2 405.2,446.3 408.0,446.4 410.7,446.5 413.5,446.6 416.3,446.7 419.1,446.8 421.9,446.9 424.7,447.0 427.5,447.1 430.3,447.2 433.1,447.2 435.8,447.3 438.6,447.4 441.4,447.4 444.2,447.5 447.0,447.5 449.8,447.6 452.6,447.6 455.4,447.7 458.2,447.7 460.9,447.7 463.7,447.8 466.5,447.8 469.3,447.8 472.1,447.9 474.9,447.9 477.7,447.9 480.5,447.9 483.2,447.9 486.0,448.0 488.8,448.0 491.6,448.0 494.4,448.0 497.2,448.0 500.0,448.0 502.8,448.0 505.6,448.1 508.3,448.1 511.1,448.1 513.9,448.1 516.7,448.1 519.5,448.1" fill="none" stroke="#ad3cb0" stroke-width="1.15" stroke-linejoin="round" stroke-linecap="butt" opacity="1.0"/>
<rect x="430.1" y="460.5" width="88.7" height="52.0" rx="1.5" fill="#ffffff" fill-opacity="0.8" stroke="#e0e0e0" stroke-width="0.6"/>
<text x="432.6" y="467.5" font-size="6.7" text-anchor="start" fill="#333333" stroke="#333333" stroke-width="0.18" font-family='"Liberation Sans", sans-serif' font-weight="normal" textLength="81" lengthAdjust="spacingAndGlyphs">Dose-Optimisation Approach</text>
<line x1="433.1" y1="473.8" x2="445.40000000000003" y2="473.8" stroke="#4040ff" stroke-width="1.15"/>
<text x="449.6" y="476.0" font-size="6.7" text-anchor="start" fill="#333333" stroke="#333333" stroke-width="0.18" font-family='"Liberation Sans", sans-serif' font-weight="normal" textLength="58" lengthAdjust="spacingAndGlyphs">Very Strong, Correct</text>
<line x1="433.1" y1="482.1" x2="445.40000000000003" y2="482.1" stroke="#2ea03c" stroke-width="1.45"/>
<text x="449.6" y="484.3" font-size="6.7" text-anchor="start" fill="#333333" stroke="#333333" stroke-width="0.18" font-family='"Liberation Sans", sans-serif' font-weight="normal" textLength="43.5" lengthAdjust="spacingAndGlyphs">Strong, Correct</text>
<line x1="433.1" y1="490.5" x2="445.40000000000003" y2="490.5" stroke="#383838" stroke-width="1.15"/>
<text x="449.6" y="492.7" font-size="6.7" text-anchor="start" fill="#333333" stroke="#333333" stroke-width="0.18" font-family='"Liberation Sans", sans-serif' font-weight="normal" textLength="24.5" lengthAdjust="spacingAndGlyphs">No Prior</text>
<line x1="433.1" y1="498.9" x2="445.40000000000003" y2="498.9" stroke="#ff3838" stroke-width="1.45"/>
<text x="449.6" y="501.1" font-size="6.7" text-anchor="start" fill="#333333" stroke="#333333" stroke-width="0.18" font-family='"Liberation Sans", sans-serif' font-weight="normal" textLength="48.5" lengthAdjust="spacingAndGlyphs">Strong, Incorrect</text>
<line x1="433.1" y1="507.2" x2="445.40000000000003" y2="507.2" stroke="#ad3cb0" stroke-width="1.15"/>
<text x="449.6" y="509.4" font-size="6.7" text-anchor="start" fill="#333333" stroke="#333333" stroke-width="0.18" font-family='"Liberation Sans", sans-serif' font-weight="normal" textLength="63" lengthAdjust="spacingAndGlyphs">Very Strong, Incorrect</text>
</g>
</svg></body></html>
